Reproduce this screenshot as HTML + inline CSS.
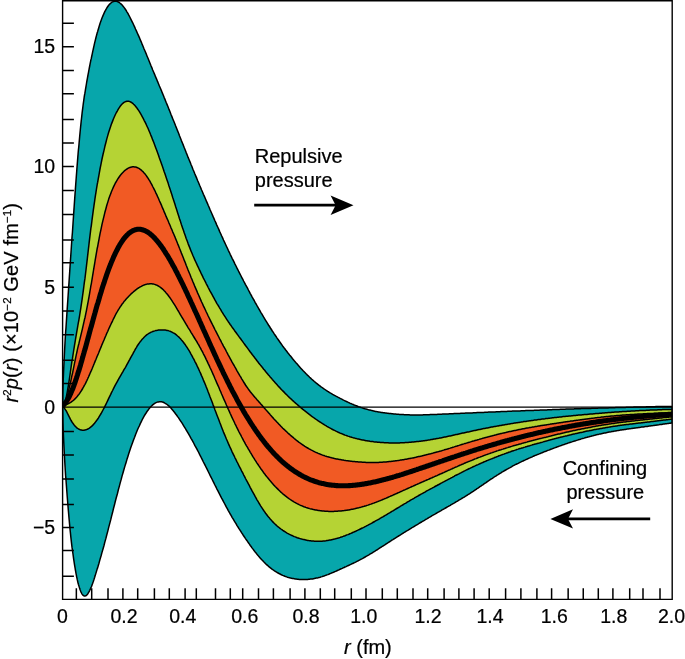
<!DOCTYPE html>
<html><head><meta charset="utf-8"><title>Radial pressure distribution</title>
<style>html,body{margin:0;padding:0;background:#fff}svg{display:block}</style></head>
<body>
<svg width="685" height="659" viewBox="0 0 685 659">
<rect width="685" height="659" fill="#fff"/>
<clipPath id="cp"><rect x="62.6" y="0" width="609.6" height="599.4"/></clipPath>
<g clip-path="url(#cp)" stroke-linejoin="round">
<polygon points="62.6,407.2 62.9,388.9 63.2,380.5 63.5,373.3 63.8,366.8 64.1,360.5 64.4,354.4 64.7,348.5 65.0,342.9 65.3,337.6 65.6,332.5 66.0,327.6 66.3,322.8 66.6,318.1 66.9,313.5 67.2,309.0 67.5,304.6 67.8,300.2 68.1,295.8 68.4,291.4 68.7,286.9 69.0,282.4 69.3,277.8 69.6,273.3 69.9,268.8 70.2,264.3 70.5,259.8 70.8,255.3 71.1,250.8 71.4,246.3 71.7,241.8 72.0,237.3 72.4,232.8 72.7,228.3 73.0,223.8 73.3,219.3 73.6,214.8 73.9,210.4 74.2,206.0 74.5,201.6 74.8,197.4 75.1,193.1 75.4,188.9 75.7,184.8 76.0,180.8 76.3,176.7 76.6,172.8 76.9,168.8 77.2,164.9 77.5,161.1 77.8,157.3 78.1,153.6 78.4,150.0 78.8,146.5 79.1,143.0 79.4,139.6 79.7,136.3 80.0,133.1 80.3,130.0 80.6,127.0 80.9,124.1 81.2,121.2 81.5,118.5 81.8,115.8 82.1,113.2 82.4,110.7 82.7,108.3 83.0,106.0 83.3,103.7 83.6,101.5 83.9,99.3 84.2,97.2 84.5,95.2 84.9,93.2 85.2,91.3 85.5,89.4 85.8,87.6 86.1,85.8 86.4,84.0 86.7,82.2 87.0,80.5 87.3,78.8 87.6,77.2 87.9,75.5 88.2,73.9 88.5,72.3 88.8,70.7 89.1,69.1 89.4,67.5 89.7,66.0 90.0,64.4 90.3,62.9 90.6,61.4 90.9,59.9 91.3,58.4 91.6,56.9 91.9,55.5 92.2,54.1 92.5,52.6 92.8,51.2 93.1,49.8 93.4,48.5 93.7,47.1 94.0,45.8 94.3,44.5 94.6,43.2 94.9,41.9 95.2,40.7 95.5,39.4 95.8,38.2 96.1,37.0 96.4,35.9 96.7,34.7 97.0,33.6 97.3,32.5 97.7,31.4 98.0,30.3 98.3,29.3 98.6,28.3 98.9,27.3 99.2,26.3 100.1,23.3 101.1,20.6 102.0,18.0 103.0,15.6 104.0,13.4 104.9,11.4 105.9,9.6 106.8,8.0 107.8,6.5 108.7,5.2 109.7,4.1 110.7,3.2 111.6,2.4 112.6,1.9 113.5,1.5 114.5,1.2 115.4,1.2 116.4,1.3 117.4,1.6 118.3,2.0 119.3,2.5 120.2,3.3 121.2,4.1 122.1,5.1 123.1,6.2 124.0,7.4 125.0,8.8 126.0,10.2 126.9,11.8 127.9,13.4 128.8,15.2 129.8,17.0 130.7,18.8 131.7,20.8 132.7,22.8 133.6,24.8 134.6,26.9 135.5,29.0 136.5,31.1 137.4,33.2 138.4,35.4 139.4,37.6 140.3,39.9 141.3,42.1 142.2,44.4 143.2,46.7 144.1,49.0 145.1,51.3 146.1,53.6 147.0,55.9 148.0,58.3 148.9,60.6 149.9,63.0 150.8,65.3 151.8,67.6 152.7,70.0 153.7,72.3 154.7,74.6 155.6,76.9 156.6,79.1 157.5,81.4 158.5,83.7 159.4,86.0 160.4,88.3 161.4,90.6 162.3,92.9 163.3,95.2 164.2,97.6 165.2,99.9 166.1,102.3 167.1,104.6 168.1,107.0 169.0,109.4 170.0,111.8 170.9,114.2 171.9,116.6 172.8,118.9 173.8,121.3 174.8,123.7 175.7,126.1 176.7,128.5 177.6,130.9 178.6,133.3 179.5,135.8 180.5,138.2 181.4,140.6 182.4,143.0 183.4,145.4 184.3,147.8 185.3,150.2 186.2,152.6 187.2,155.0 188.1,157.4 189.1,159.7 190.1,162.1 191.0,164.5 192.0,166.8 192.9,169.2 193.9,171.5 194.8,173.8 195.8,176.1 196.8,178.4 197.7,180.7 198.7,183.0 199.6,185.3 200.6,187.5 201.5,189.8 202.5,192.0 203.4,194.2 204.4,196.4 205.4,198.7 206.3,200.9 207.3,203.1 208.2,205.3 209.2,207.5 210.1,209.8 211.1,212.0 212.1,214.2 213.0,216.4 214.0,218.6 214.9,220.8 215.9,222.9 216.8,225.1 217.8,227.3 218.8,229.4 219.7,231.6 220.7,233.7 221.6,235.8 222.6,237.9 223.5,240.0 224.5,242.1 225.5,244.2 226.4,246.2 227.4,248.3 228.3,250.3 229.3,252.3 230.2,254.3 231.2,256.3 232.1,258.3 233.1,260.2 234.1,262.2 235.0,264.1 236.0,266.0 236.9,267.9 237.9,269.8 238.8,271.7 239.8,273.6 240.8,275.5 241.7,277.3 242.7,279.2 243.6,281.0 244.6,282.8 245.5,284.6 246.5,286.4 247.5,288.2 248.4,290.0 249.4,291.8 250.3,293.6 251.3,295.3 252.2,297.1 253.2,298.8 254.2,300.5 255.1,302.3 256.1,304.0 257.0,305.7 258.0,307.3 258.9,309.0 259.9,310.7 260.8,312.3 261.8,313.9 262.8,315.6 263.7,317.2 264.7,318.8 265.6,320.3 266.6,321.9 267.5,323.4 268.5,325.0 269.5,326.5 270.4,328.0 271.4,329.5 272.3,331.0 273.3,332.4 274.2,333.9 275.2,335.3 276.2,336.7 277.1,338.1 278.1,339.5 279.0,340.8 280.0,342.2 280.9,343.5 281.9,344.9 282.8,346.2 283.8,347.5 284.8,348.7 285.7,350.0 286.7,351.3 287.6,352.5 288.6,353.7 289.5,354.9 290.5,356.1 291.5,357.3 292.4,358.5 293.4,359.7 294.3,360.8 295.3,361.9 296.2,363.0 297.2,364.1 298.2,365.2 299.1,366.3 300.1,367.4 301.0,368.4 302.0,369.5 302.9,370.5 303.9,371.5 304.9,372.5 305.8,373.5 306.8,374.4 307.7,375.4 308.7,376.3 309.6,377.2 310.6,378.1 311.5,379.0 312.5,379.8 313.5,380.7 314.4,381.5 315.4,382.3 316.3,383.1 317.3,383.9 318.2,384.6 319.2,385.4 320.2,386.1 321.1,386.8 322.1,387.5 323.0,388.2 324.0,388.9 324.9,389.5 325.9,390.2 326.9,390.8 327.8,391.4 328.8,392.0 329.7,392.6 330.7,393.2 331.6,393.7 332.6,394.3 333.6,394.8 334.5,395.4 335.5,395.9 336.4,396.4 337.4,396.9 338.3,397.4 339.3,397.9 340.2,398.4 341.2,398.9 342.2,399.4 343.1,399.9 344.1,400.4 345.0,400.8 346.0,401.3 346.9,401.7 347.9,402.2 348.9,402.6 349.8,403.1 350.8,403.5 351.7,403.9 352.7,404.3 353.6,404.7 354.6,405.1 355.6,405.5 356.5,405.8 357.5,406.2 358.4,406.6 359.4,406.9 360.3,407.2 361.3,407.6 362.3,407.9 363.2,408.2 364.2,408.5 365.1,408.8 366.1,409.1 367.0,409.3 368.0,409.6 368.9,409.9 369.9,410.1 370.9,410.3 371.8,410.6 372.8,410.8 373.7,411.0 374.7,411.2 375.6,411.4 376.6,411.6 377.6,411.7 378.5,411.9 379.5,412.1 380.4,412.2 381.4,412.4 382.3,412.5 383.3,412.7 384.3,412.8 385.2,413.0 386.2,413.1 387.1,413.2 388.1,413.3 389.0,413.4 390.0,413.5 390.9,413.6 391.9,413.7 392.9,413.8 393.8,413.9 394.8,414.0 395.7,414.1 396.7,414.2 397.6,414.3 398.6,414.3 399.6,414.4 400.5,414.5 401.5,414.5 402.4,414.6 403.4,414.6 404.3,414.7 405.3,414.7 406.3,414.8 407.2,414.8 408.2,414.8 409.1,414.8 410.1,414.9 411.0,414.9 412.0,414.9 413.0,414.9 413.9,414.9 414.9,414.9 415.8,414.9 416.8,414.9 417.7,414.9 418.7,414.9 419.6,414.9 420.6,414.9 421.6,414.9 422.5,414.9 423.5,414.8 424.4,414.8 425.4,414.8 426.3,414.8 427.3,414.7 428.3,414.7 429.2,414.7 430.2,414.6 431.1,414.6 432.1,414.6 433.0,414.5 434.0,414.5 435.0,414.4 435.9,414.4 436.9,414.4 437.8,414.3 438.8,414.3 439.7,414.2 440.7,414.2 441.7,414.2 442.6,414.1 443.6,414.1 444.5,414.0 445.5,414.0 446.4,413.9 447.4,413.9 448.3,413.9 449.3,413.8 450.3,413.8 451.2,413.7 452.2,413.7 453.1,413.7 454.1,413.6 455.0,413.6 456.0,413.5 457.0,413.5 457.9,413.5 458.9,413.4 459.8,413.4 460.8,413.3 461.7,413.3 462.7,413.3 463.7,413.2 464.6,413.2 465.6,413.1 466.5,413.1 467.5,413.1 468.4,413.0 469.4,413.0 470.4,412.9 471.3,412.9 472.3,412.9 473.2,412.8 474.2,412.8 475.1,412.7 476.1,412.7 477.0,412.6 478.0,412.6 479.0,412.6 479.9,412.5 480.9,412.5 481.8,412.4 482.8,412.4 483.7,412.4 484.7,412.3 485.7,412.3 486.6,412.2 487.6,412.2 488.5,412.1 489.5,412.1 490.4,412.1 491.4,412.0 492.4,412.0 493.3,411.9 494.3,411.9 495.2,411.9 496.2,411.8 497.1,411.8 498.1,411.7 499.0,411.7 500.0,411.7 501.0,411.6 501.9,411.6 502.9,411.5 503.8,411.5 504.8,411.5 505.7,411.4 506.7,411.4 507.7,411.3 508.6,411.3 509.6,411.3 510.5,411.2 511.5,411.2 512.4,411.1 513.4,411.1 514.4,411.1 515.3,411.0 516.3,411.0 517.2,411.0 518.2,410.9 519.1,410.9 520.1,410.9 521.1,410.8 522.0,410.8 523.0,410.7 523.9,410.7 524.9,410.7 525.8,410.6 526.8,410.6 527.7,410.6 528.7,410.5 529.7,410.5 530.6,410.5 531.6,410.4 532.5,410.4 533.5,410.4 534.4,410.3 535.4,410.3 536.4,410.3 537.3,410.2 538.3,410.2 539.2,410.2 540.2,410.1 541.1,410.1 542.1,410.0 543.1,410.0 544.0,410.0 545.0,409.9 545.9,409.9 546.9,409.9 547.8,409.8 548.8,409.8 549.8,409.7 550.7,409.7 551.7,409.7 552.6,409.6 553.6,409.6 554.5,409.6 555.5,409.5 556.4,409.5 557.4,409.4 558.4,409.4 559.3,409.4 560.3,409.3 561.2,409.3 562.2,409.3 563.1,409.2 564.1,409.2 565.1,409.2 566.0,409.1 567.0,409.1 567.9,409.1 568.9,409.0 569.8,409.0 570.8,409.0 571.8,408.9 572.7,408.9 573.7,408.9 574.6,408.8 575.6,408.8 576.5,408.8 577.5,408.8 578.4,408.7 579.4,408.7 580.4,408.7 581.3,408.6 582.3,408.6 583.2,408.6 584.2,408.5 585.1,408.5 586.1,408.5 587.1,408.5 588.0,408.4 589.0,408.4 589.9,408.4 590.9,408.4 591.8,408.3 592.8,408.3 593.8,408.3 594.7,408.2 595.7,408.2 596.6,408.2 597.6,408.2 598.5,408.1 599.5,408.1 600.5,408.1 601.4,408.0 602.4,408.0 603.3,408.0 604.3,408.0 605.2,407.9 606.2,407.9 607.1,407.9 608.1,407.9 609.1,407.8 610.0,407.8 611.0,407.8 611.9,407.7 612.9,407.7 613.8,407.7 614.8,407.7 615.8,407.6 616.7,407.6 617.7,407.6 618.6,407.6 619.6,407.5 620.5,407.5 621.5,407.5 622.5,407.4 623.4,407.4 624.4,407.4 625.3,407.4 626.3,407.3 627.2,407.3 628.2,407.3 629.2,407.3 630.1,407.2 631.1,407.2 632.0,407.2 633.0,407.2 633.9,407.1 634.9,407.1 635.8,407.1 636.8,407.1 637.8,407.0 638.7,407.0 639.7,407.0 640.6,407.0 641.6,406.9 642.5,406.9 643.5,406.9 644.5,406.9 645.4,406.9 646.4,406.8 647.3,406.8 648.3,406.8 649.2,406.8 650.2,406.8 651.2,406.7 652.1,406.7 653.1,406.7 654.0,406.7 655.0,406.7 655.9,406.6 656.9,406.6 657.9,406.6 658.8,406.6 659.8,406.6 660.7,406.6 661.7,406.6 662.6,406.5 663.6,406.5 664.5,406.5 665.5,406.5 666.5,406.5 667.4,406.5 668.4,406.5 669.3,406.5 670.3,406.5 671.2,406.4 672.2,406.4 672.2,422.9 671.2,423.0 670.3,423.2 669.3,423.3 668.4,423.4 667.4,423.6 666.5,423.7 665.5,423.8 664.5,424.0 663.6,424.1 662.6,424.2 661.7,424.4 660.7,424.5 659.8,424.6 658.8,424.8 657.9,424.9 656.9,425.0 655.9,425.2 655.0,425.3 654.0,425.4 653.1,425.6 652.1,425.7 651.2,425.8 650.2,426.0 649.2,426.1 648.3,426.2 647.3,426.4 646.4,426.5 645.4,426.6 644.5,426.7 643.5,426.9 642.5,427.0 641.6,427.1 640.6,427.3 639.7,427.4 638.7,427.5 637.8,427.7 636.8,427.8 635.8,427.9 634.9,428.0 633.9,428.2 633.0,428.3 632.0,428.4 631.1,428.6 630.1,428.7 629.2,428.8 628.2,429.0 627.2,429.1 626.3,429.2 625.3,429.4 624.4,429.5 623.4,429.7 622.5,429.8 621.5,430.0 620.5,430.1 619.6,430.3 618.6,430.4 617.7,430.6 616.7,430.7 615.8,430.9 614.8,431.1 613.8,431.2 612.9,431.4 611.9,431.6 611.0,431.8 610.0,431.9 609.1,432.1 608.1,432.3 607.1,432.5 606.2,432.7 605.2,432.9 604.3,433.1 603.3,433.3 602.4,433.5 601.4,433.7 600.5,433.9 599.5,434.1 598.5,434.4 597.6,434.6 596.6,434.8 595.7,435.0 594.7,435.3 593.8,435.5 592.8,435.8 591.8,436.0 590.9,436.3 589.9,436.5 589.0,436.8 588.0,437.0 587.1,437.3 586.1,437.5 585.1,437.8 584.2,438.1 583.2,438.4 582.3,438.6 581.3,438.9 580.4,439.2 579.4,439.5 578.4,439.8 577.5,440.1 576.5,440.4 575.6,440.7 574.6,441.0 573.7,441.3 572.7,441.6 571.8,441.9 570.8,442.2 569.8,442.5 568.9,442.8 567.9,443.1 567.0,443.5 566.0,443.8 565.1,444.1 564.1,444.5 563.1,444.8 562.2,445.1 561.2,445.5 560.3,445.8 559.3,446.1 558.4,446.5 557.4,446.8 556.4,447.2 555.5,447.5 554.5,447.9 553.6,448.2 552.6,448.6 551.7,449.0 550.7,449.3 549.8,449.7 548.8,450.1 547.8,450.4 546.9,450.8 545.9,451.2 545.0,451.5 544.0,451.9 543.1,452.3 542.1,452.7 541.1,453.1 540.2,453.5 539.2,453.9 538.3,454.2 537.3,454.6 536.4,455.0 535.4,455.4 534.4,455.8 533.5,456.2 532.5,456.7 531.6,457.1 530.6,457.5 529.7,457.9 528.7,458.3 527.7,458.8 526.8,459.2 525.8,459.6 524.9,460.1 523.9,460.5 523.0,461.0 522.0,461.4 521.1,461.9 520.1,462.3 519.1,462.8 518.2,463.3 517.2,463.8 516.3,464.2 515.3,464.7 514.4,465.2 513.4,465.7 512.4,466.2 511.5,466.8 510.5,467.3 509.6,467.8 508.6,468.3 507.7,468.9 506.7,469.4 505.7,470.0 504.8,470.5 503.8,471.1 502.9,471.7 501.9,472.2 501.0,472.8 500.0,473.4 499.0,474.0 498.1,474.6 497.1,475.2 496.2,475.8 495.2,476.4 494.3,477.0 493.3,477.7 492.4,478.3 491.4,478.9 490.4,479.5 489.5,480.2 488.5,480.8 487.6,481.5 486.6,482.1 485.7,482.8 484.7,483.4 483.7,484.1 482.8,484.8 481.8,485.4 480.9,486.1 479.9,486.7 479.0,487.4 478.0,488.1 477.0,488.7 476.1,489.4 475.1,490.0 474.2,490.6 473.2,491.3 472.3,491.9 471.3,492.5 470.4,493.2 469.4,493.8 468.4,494.4 467.5,495.0 466.5,495.6 465.6,496.2 464.6,496.8 463.7,497.4 462.7,497.9 461.7,498.5 460.8,499.1 459.8,499.7 458.9,500.2 457.9,500.8 457.0,501.4 456.0,501.9 455.0,502.5 454.1,503.1 453.1,503.6 452.2,504.2 451.2,504.7 450.3,505.3 449.3,505.8 448.3,506.4 447.4,506.9 446.4,507.5 445.5,508.0 444.5,508.6 443.6,509.1 442.6,509.7 441.7,510.2 440.7,510.8 439.7,511.3 438.8,511.9 437.8,512.4 436.9,513.0 435.9,513.5 435.0,514.1 434.0,514.6 433.0,515.2 432.1,515.7 431.1,516.3 430.2,516.9 429.2,517.4 428.3,518.0 427.3,518.6 426.3,519.1 425.4,519.7 424.4,520.3 423.5,520.8 422.5,521.4 421.6,522.0 420.6,522.5 419.6,523.1 418.7,523.7 417.7,524.3 416.8,524.8 415.8,525.4 414.9,526.0 413.9,526.6 413.0,527.2 412.0,527.7 411.0,528.3 410.1,528.9 409.1,529.5 408.2,530.1 407.2,530.7 406.3,531.2 405.3,531.8 404.3,532.4 403.4,533.0 402.4,533.6 401.5,534.2 400.5,534.8 399.6,535.4 398.6,536.0 397.6,536.6 396.7,537.2 395.7,537.8 394.8,538.4 393.8,539.0 392.9,539.6 391.9,540.2 390.9,540.9 390.0,541.5 389.0,542.1 388.1,542.7 387.1,543.3 386.2,543.9 385.2,544.6 384.3,545.2 383.3,545.8 382.3,546.4 381.4,547.0 380.4,547.6 379.5,548.2 378.5,548.9 377.6,549.5 376.6,550.1 375.6,550.7 374.7,551.3 373.7,551.9 372.8,552.5 371.8,553.1 370.9,553.6 369.9,554.2 368.9,554.8 368.0,555.3 367.0,555.9 366.1,556.4 365.1,557.0 364.2,557.5 363.2,558.1 362.3,558.6 361.3,559.1 360.3,559.7 359.4,560.2 358.4,560.7 357.5,561.1 356.5,561.6 355.6,562.1 354.6,562.6 353.6,563.0 352.7,563.5 351.7,563.9 350.8,564.4 349.8,564.8 348.9,565.3 347.9,565.7 346.9,566.2 346.0,566.6 345.0,567.0 344.1,567.5 343.1,567.9 342.2,568.4 341.2,568.8 340.2,569.2 339.3,569.7 338.3,570.1 337.4,570.5 336.4,571.0 335.5,571.4 334.5,571.8 333.6,572.2 332.6,572.6 331.6,573.0 330.7,573.4 329.7,573.8 328.8,574.2 327.8,574.6 326.9,574.9 325.9,575.3 324.9,575.6 324.0,576.0 323.0,576.3 322.1,576.6 321.1,576.9 320.2,577.2 319.2,577.4 318.2,577.7 317.3,577.9 316.3,578.1 315.4,578.3 314.4,578.5 313.5,578.7 312.5,578.9 311.5,579.0 310.6,579.1 309.6,579.2 308.7,579.3 307.7,579.4 306.8,579.5 305.8,579.5 304.9,579.6 303.9,579.6 302.9,579.6 302.0,579.6 301.0,579.5 300.1,579.5 299.1,579.4 298.2,579.3 297.2,579.2 296.2,579.1 295.3,579.0 294.3,578.8 293.4,578.6 292.4,578.4 291.5,578.2 290.5,578.0 289.5,577.7 288.6,577.5 287.6,577.2 286.7,576.9 285.7,576.5 284.8,576.2 283.8,575.8 282.8,575.4 281.9,575.0 280.9,574.5 280.0,574.0 279.0,573.5 278.1,573.0 277.1,572.5 276.2,571.9 275.2,571.3 274.2,570.7 273.3,570.0 272.3,569.3 271.4,568.6 270.4,567.8 269.5,567.1 268.5,566.3 267.5,565.4 266.6,564.6 265.6,563.7 264.7,562.7 263.7,561.8 262.8,560.8 261.8,559.8 260.8,558.7 259.9,557.7 258.9,556.6 258.0,555.4 257.0,554.3 256.1,553.1 255.1,551.9 254.2,550.7 253.2,549.4 252.2,548.1 251.3,546.8 250.3,545.5 249.4,544.1 248.4,542.8 247.5,541.4 246.5,540.0 245.5,538.6 244.6,537.2 243.6,535.8 242.7,534.3 241.7,532.9 240.8,531.4 239.8,529.9 238.8,528.4 237.9,526.9 236.9,525.3 236.0,523.7 235.0,522.2 234.1,520.6 233.1,518.9 232.1,517.3 231.2,515.6 230.2,514.0 229.3,512.3 228.3,510.6 227.4,508.8 226.4,507.1 225.5,505.3 224.5,503.5 223.5,501.7 222.6,499.9 221.6,498.1 220.7,496.3 219.7,494.4 218.8,492.6 217.8,490.7 216.8,488.8 215.9,486.9 214.9,485.0 214.0,483.1 213.0,481.2 212.1,479.3 211.1,477.3 210.1,475.4 209.2,473.5 208.2,471.5 207.3,469.6 206.3,467.7 205.4,465.8 204.4,463.9 203.4,462.0 202.5,460.1 201.5,458.2 200.6,456.3 199.6,454.4 198.7,452.5 197.7,450.7 196.8,448.9 195.8,447.1 194.8,445.3 193.9,443.5 192.9,441.7 192.0,440.0 191.0,438.3 190.1,436.6 189.1,434.9 188.1,433.2 187.2,431.6 186.2,430.0 185.3,428.4 184.3,426.8 183.4,425.3 182.4,423.7 181.4,422.2 180.5,420.8 179.5,419.3 178.6,417.9 177.6,416.6 176.7,415.3 175.7,414.0 174.8,412.7 173.8,411.5 172.8,410.3 171.9,409.2 170.9,408.1 170.0,407.1 169.0,406.1 168.1,405.3 167.1,404.5 166.1,403.8 165.2,403.3 164.2,402.7 163.3,402.3 162.3,402.0 161.4,401.8 160.4,401.7 159.4,401.7 158.5,401.9 157.5,402.1 156.6,402.4 155.6,402.9 154.7,403.4 153.7,404.1 152.7,404.9 151.8,405.7 150.8,406.7 149.9,407.8 148.9,408.9 148.0,410.2 147.0,411.5 146.1,413.0 145.1,414.5 144.1,416.2 143.2,417.9 142.2,419.7 141.3,421.6 140.3,423.6 139.4,425.7 138.4,427.8 137.4,430.0 136.5,432.3 135.5,434.7 134.6,437.2 133.6,439.7 132.7,442.3 131.7,445.0 130.7,447.7 129.8,450.6 128.8,453.5 127.9,456.5 126.9,459.6 126.0,462.7 125.0,465.9 124.0,469.2 123.1,472.5 122.1,475.9 121.2,479.4 120.2,482.9 119.3,486.4 118.3,490.0 117.4,493.7 116.4,497.3 115.4,501.0 114.5,504.7 113.5,508.5 112.6,512.3 111.6,516.1 110.7,519.9 109.7,523.6 108.7,527.4 107.8,531.1 106.8,534.7 105.9,538.4 104.9,541.9 104.0,545.5 103.0,549.0 102.0,552.4 101.1,555.8 100.1,559.1 99.2,562.4 98.9,563.5 98.6,564.5 98.3,565.5 98.0,566.6 97.7,567.6 97.3,568.6 97.0,569.6 96.7,570.6 96.4,571.6 96.1,572.6 95.8,573.6 95.5,574.6 95.2,575.6 94.9,576.5 94.6,577.5 94.3,578.4 94.0,579.4 93.7,580.3 93.4,581.2 93.1,582.1 92.8,582.9 92.5,583.8 92.2,584.6 91.9,585.4 91.6,586.2 91.3,587.0 90.9,587.7 90.6,588.5 90.3,589.2 90.0,589.8 89.7,590.5 89.4,591.1 89.1,591.7 88.8,592.2 88.5,592.7 88.2,593.2 87.9,593.7 87.6,594.1 87.3,594.5 87.0,594.8 86.7,595.1 86.4,595.4 86.1,595.6 85.8,595.8 85.5,595.9 85.2,596.0 84.9,596.0 84.5,596.0 84.2,596.0 83.9,595.9 83.6,595.7 83.3,595.5 83.0,595.2 82.7,594.9 82.4,594.5 82.1,594.1 81.8,593.6 81.5,593.0 81.2,592.4 80.9,591.8 80.6,591.1 80.3,590.3 80.0,589.5 79.7,588.6 79.4,587.6 79.1,586.6 78.8,585.6 78.4,584.4 78.1,583.3 77.8,582.0 77.5,580.7 77.2,579.4 76.9,577.9 76.6,576.5 76.3,574.9 76.0,573.3 75.7,571.7 75.4,570.0 75.1,568.2 74.8,566.4 74.5,564.6 74.2,562.6 73.9,560.6 73.6,558.6 73.3,556.4 73.0,554.2 72.7,552.0 72.4,549.6 72.0,547.2 71.7,544.7 71.4,542.1 71.1,539.4 70.8,536.6 70.5,533.7 70.2,530.8 69.9,527.7 69.6,524.6 69.3,521.3 69.0,518.0 68.7,514.5 68.4,511.0 68.1,507.4 67.8,503.7 67.5,500.0 67.2,496.2 66.9,492.3 66.6,488.3 66.3,484.2 66.0,479.9 65.6,475.4 65.3,470.7 65.0,465.7 64.7,460.5 64.4,455.0 64.1,449.3 63.8,443.2 63.5,436.9 63.2,430.0 62.9,422.3 62.6,407.2" fill="#07a6ab" stroke="#000" stroke-width="1.5"/>
<polygon points="62.6,407.2 62.9,406.1 63.2,405.6 63.5,405.2 63.8,404.8 64.1,404.5 64.4,403.8 64.7,402.9 65.0,401.8 65.3,400.7 65.6,399.5 66.0,398.2 66.3,396.8 66.6,395.4 66.9,393.9 67.2,392.3 67.5,390.6 67.8,388.9 68.1,387.2 68.4,385.4 68.7,383.5 69.0,381.5 69.3,379.6 69.6,377.5 69.9,375.5 70.2,373.4 70.5,371.3 70.8,369.2 71.1,367.1 71.4,365.0 71.7,362.9 72.0,360.9 72.4,358.9 72.7,356.9 73.0,354.9 73.3,353.0 73.6,351.0 73.9,349.1 74.2,347.3 74.5,345.4 74.8,343.6 75.1,341.8 75.4,340.0 75.7,338.2 76.0,336.4 76.3,334.6 76.6,332.9 76.9,331.1 77.2,329.4 77.5,327.6 77.8,325.9 78.1,324.1 78.4,322.3 78.8,320.5 79.1,318.7 79.4,316.8 79.7,315.0 80.0,313.1 80.3,311.2 80.6,309.3 80.9,307.3 81.2,305.4 81.5,303.4 81.8,301.3 82.1,299.3 82.4,297.2 82.7,295.0 83.0,292.8 83.3,290.6 83.6,288.3 83.9,286.0 84.2,283.7 84.5,281.3 84.9,278.9 85.2,276.5 85.5,274.0 85.8,271.5 86.1,269.0 86.4,266.5 86.7,263.9 87.0,261.3 87.3,258.8 87.6,256.2 87.9,253.6 88.2,251.0 88.5,248.4 88.8,245.8 89.1,243.2 89.4,240.7 89.7,238.1 90.0,235.6 90.3,233.1 90.6,230.6 90.9,228.2 91.3,225.8 91.6,223.4 91.9,221.0 92.2,218.7 92.5,216.4 92.8,214.1 93.1,211.9 93.4,209.7 93.7,207.6 94.0,205.4 94.3,203.3 94.6,201.3 94.9,199.2 95.2,197.2 95.5,195.2 95.8,193.3 96.1,191.4 96.4,189.5 96.7,187.6 97.0,185.8 97.3,184.0 97.7,182.2 98.0,180.4 98.3,178.7 98.6,177.0 98.9,175.3 99.2,173.6 100.1,168.5 101.1,163.6 102.0,159.0 103.0,154.5 104.0,150.3 104.9,146.3 105.9,142.5 106.8,138.9 107.8,135.4 108.7,132.2 109.7,129.2 110.7,126.3 111.6,123.6 112.6,121.1 113.5,118.7 114.5,116.5 115.4,114.5 116.4,112.5 117.4,110.8 118.3,109.1 119.3,107.6 120.2,106.3 121.2,105.1 122.1,104.0 123.1,103.1 124.0,102.4 125.0,101.9 126.0,101.5 126.9,101.3 127.9,101.2 128.8,101.3 129.8,101.6 130.7,102.0 131.7,102.6 132.7,103.3 133.6,104.2 134.6,105.1 135.5,106.2 136.5,107.4 137.4,108.7 138.4,110.1 139.4,111.6 140.3,113.2 141.3,114.9 142.2,116.6 143.2,118.4 144.1,120.3 145.1,122.2 146.1,124.2 147.0,126.2 148.0,128.3 148.9,130.5 149.9,132.8 150.8,135.1 151.8,137.4 152.7,139.9 153.7,142.3 154.7,144.9 155.6,147.4 156.6,150.0 157.5,152.6 158.5,155.3 159.4,158.0 160.4,160.7 161.4,163.4 162.3,166.1 163.3,168.9 164.2,171.7 165.2,174.5 166.1,177.3 167.1,180.2 168.1,183.1 169.0,186.0 170.0,188.9 170.9,191.8 171.9,194.8 172.8,197.8 173.8,200.7 174.8,203.7 175.7,206.8 176.7,209.8 177.6,212.7 178.6,215.7 179.5,218.7 180.5,221.6 181.4,224.5 182.4,227.4 183.4,230.2 184.3,233.0 185.3,235.7 186.2,238.4 187.2,241.1 188.1,243.6 189.1,246.1 190.1,248.6 191.0,250.9 192.0,253.3 192.9,255.5 193.9,257.7 194.8,259.9 195.8,262.0 196.8,264.1 197.7,266.2 198.7,268.2 199.6,270.2 200.6,272.2 201.5,274.2 202.5,276.2 203.4,278.1 204.4,280.0 205.4,281.9 206.3,283.8 207.3,285.6 208.2,287.5 209.2,289.3 210.1,291.1 211.1,292.9 212.1,294.7 213.0,296.4 214.0,298.2 214.9,299.9 215.9,301.6 216.8,303.3 217.8,304.9 218.8,306.5 219.7,308.2 220.7,309.7 221.6,311.3 222.6,312.9 223.5,314.4 224.5,315.9 225.5,317.4 226.4,318.8 227.4,320.3 228.3,321.7 229.3,323.1 230.2,324.5 231.2,325.8 232.1,327.2 233.1,328.5 234.1,329.9 235.0,331.2 236.0,332.5 236.9,333.8 237.9,335.1 238.8,336.4 239.8,337.7 240.8,339.0 241.7,340.3 242.7,341.6 243.6,342.9 244.6,344.2 245.5,345.5 246.5,346.8 247.5,348.1 248.4,349.4 249.4,350.7 250.3,352.0 251.3,353.2 252.2,354.5 253.2,355.8 254.2,357.0 255.1,358.3 256.1,359.5 257.0,360.8 258.0,362.0 258.9,363.2 259.9,364.4 260.8,365.6 261.8,366.8 262.8,368.0 263.7,369.2 264.7,370.3 265.6,371.5 266.6,372.7 267.5,373.8 268.5,375.0 269.5,376.1 270.4,377.2 271.4,378.3 272.3,379.4 273.3,380.5 274.2,381.6 275.2,382.7 276.2,383.8 277.1,384.8 278.1,385.9 279.0,386.9 280.0,387.9 280.9,388.9 281.9,390.0 282.8,390.9 283.8,391.9 284.8,392.9 285.7,393.9 286.7,394.8 287.6,395.7 288.6,396.7 289.5,397.6 290.5,398.5 291.5,399.4 292.4,400.3 293.4,401.1 294.3,402.0 295.3,402.9 296.2,403.7 297.2,404.5 298.2,405.4 299.1,406.2 300.1,407.0 301.0,407.8 302.0,408.6 302.9,409.4 303.9,410.2 304.9,410.9 305.8,411.7 306.8,412.4 307.7,413.2 308.7,413.9 309.6,414.7 310.6,415.4 311.5,416.1 312.5,416.8 313.5,417.5 314.4,418.2 315.4,418.9 316.3,419.5 317.3,420.2 318.2,420.8 319.2,421.5 320.2,422.1 321.1,422.7 322.1,423.3 323.0,423.9 324.0,424.5 324.9,425.1 325.9,425.7 326.9,426.3 327.8,426.8 328.8,427.4 329.7,427.9 330.7,428.4 331.6,429.0 332.6,429.5 333.6,430.0 334.5,430.4 335.5,430.9 336.4,431.4 337.4,431.8 338.3,432.3 339.3,432.7 340.2,433.1 341.2,433.5 342.2,433.9 343.1,434.3 344.1,434.7 345.0,435.1 346.0,435.4 346.9,435.7 347.9,436.1 348.9,436.4 349.8,436.7 350.8,437.0 351.7,437.3 352.7,437.6 353.6,437.9 354.6,438.1 355.6,438.4 356.5,438.6 357.5,438.9 358.4,439.1 359.4,439.3 360.3,439.5 361.3,439.7 362.3,439.9 363.2,440.1 364.2,440.3 365.1,440.5 366.1,440.7 367.0,440.8 368.0,441.0 368.9,441.1 369.9,441.3 370.9,441.4 371.8,441.5 372.8,441.6 373.7,441.8 374.7,441.9 375.6,442.0 376.6,442.1 377.6,442.2 378.5,442.3 379.5,442.3 380.4,442.4 381.4,442.5 382.3,442.6 383.3,442.6 384.3,442.7 385.2,442.7 386.2,442.8 387.1,442.8 388.1,442.8 389.0,442.9 390.0,442.9 390.9,442.9 391.9,442.9 392.9,442.9 393.8,442.9 394.8,442.9 395.7,442.9 396.7,442.9 397.6,442.9 398.6,442.9 399.6,442.9 400.5,442.8 401.5,442.8 402.4,442.8 403.4,442.7 404.3,442.7 405.3,442.6 406.3,442.5 407.2,442.5 408.2,442.4 409.1,442.3 410.1,442.3 411.0,442.2 412.0,442.1 413.0,442.0 413.9,441.9 414.9,441.8 415.8,441.7 416.8,441.6 417.7,441.5 418.7,441.4 419.6,441.3 420.6,441.2 421.6,441.0 422.5,440.9 423.5,440.8 424.4,440.7 425.4,440.5 426.3,440.4 427.3,440.2 428.3,440.1 429.2,439.9 430.2,439.8 431.1,439.6 432.1,439.5 433.0,439.3 434.0,439.1 435.0,439.0 435.9,438.8 436.9,438.6 437.8,438.4 438.8,438.3 439.7,438.1 440.7,437.9 441.7,437.7 442.6,437.5 443.6,437.3 444.5,437.1 445.5,436.9 446.4,436.7 447.4,436.5 448.3,436.3 449.3,436.1 450.3,435.9 451.2,435.7 452.2,435.5 453.1,435.3 454.1,435.1 455.0,434.8 456.0,434.6 457.0,434.4 457.9,434.2 458.9,434.0 459.8,433.8 460.8,433.6 461.7,433.3 462.7,433.1 463.7,432.9 464.6,432.7 465.6,432.5 466.5,432.3 467.5,432.1 468.4,431.9 469.4,431.7 470.4,431.4 471.3,431.2 472.3,431.0 473.2,430.8 474.2,430.6 475.1,430.4 476.1,430.2 477.0,430.0 478.0,429.8 479.0,429.6 479.9,429.4 480.9,429.2 481.8,429.0 482.8,428.8 483.7,428.6 484.7,428.5 485.7,428.3 486.6,428.1 487.6,427.9 488.5,427.7 489.5,427.5 490.4,427.3 491.4,427.1 492.4,427.0 493.3,426.8 494.3,426.6 495.2,426.4 496.2,426.2 497.1,426.1 498.1,425.9 499.0,425.7 500.0,425.5 501.0,425.4 501.9,425.2 502.9,425.0 503.8,424.9 504.8,424.7 505.7,424.5 506.7,424.4 507.7,424.2 508.6,424.1 509.6,423.9 510.5,423.7 511.5,423.6 512.4,423.4 513.4,423.3 514.4,423.1 515.3,423.0 516.3,422.8 517.2,422.7 518.2,422.5 519.1,422.4 520.1,422.2 521.1,422.1 522.0,421.9 523.0,421.8 523.9,421.6 524.9,421.5 525.8,421.4 526.8,421.2 527.7,421.1 528.7,420.9 529.7,420.8 530.6,420.7 531.6,420.5 532.5,420.4 533.5,420.3 534.4,420.1 535.4,420.0 536.4,419.9 537.3,419.7 538.3,419.6 539.2,419.5 540.2,419.4 541.1,419.2 542.1,419.1 543.1,419.0 544.0,418.9 545.0,418.8 545.9,418.6 546.9,418.5 547.8,418.4 548.8,418.3 549.8,418.2 550.7,418.1 551.7,417.9 552.6,417.8 553.6,417.7 554.5,417.6 555.5,417.5 556.4,417.4 557.4,417.3 558.4,417.2 559.3,417.1 560.3,417.0 561.2,416.9 562.2,416.7 563.1,416.6 564.1,416.5 565.1,416.4 566.0,416.3 567.0,416.2 567.9,416.2 568.9,416.1 569.8,416.0 570.8,415.9 571.8,415.8 572.7,415.7 573.7,415.6 574.6,415.5 575.6,415.4 576.5,415.3 577.5,415.2 578.4,415.1 579.4,415.1 580.4,415.0 581.3,414.9 582.3,414.8 583.2,414.7 584.2,414.6 585.1,414.5 586.1,414.5 587.1,414.4 588.0,414.3 589.0,414.2 589.9,414.1 590.9,414.0 591.8,414.0 592.8,413.9 593.8,413.8 594.7,413.7 595.7,413.6 596.6,413.5 597.6,413.5 598.5,413.4 599.5,413.3 600.5,413.2 601.4,413.2 602.4,413.1 603.3,413.0 604.3,412.9 605.2,412.8 606.2,412.8 607.1,412.7 608.1,412.6 609.1,412.6 610.0,412.5 611.0,412.4 611.9,412.3 612.9,412.3 613.8,412.2 614.8,412.1 615.8,412.1 616.7,412.0 617.7,411.9 618.6,411.9 619.6,411.8 620.5,411.7 621.5,411.7 622.5,411.6 623.4,411.6 624.4,411.5 625.3,411.4 626.3,411.4 627.2,411.3 628.2,411.3 629.2,411.2 630.1,411.2 631.1,411.1 632.0,411.1 633.0,411.0 633.9,410.9 634.9,410.9 635.8,410.8 636.8,410.8 637.8,410.7 638.7,410.7 639.7,410.6 640.6,410.6 641.6,410.5 642.5,410.5 643.5,410.5 644.5,410.4 645.4,410.4 646.4,410.3 647.3,410.3 648.3,410.2 649.2,410.2 650.2,410.1 651.2,410.1 652.1,410.1 653.1,410.0 654.0,410.0 655.0,409.9 655.9,409.9 656.9,409.9 657.9,409.8 658.8,409.8 659.8,409.7 660.7,409.7 661.7,409.7 662.6,409.6 663.6,409.6 664.5,409.6 665.5,409.5 666.5,409.5 667.4,409.5 668.4,409.4 669.3,409.4 670.3,409.4 671.2,409.4 672.2,409.3 672.2,419.1 671.2,419.2 670.3,419.3 669.3,419.4 668.4,419.5 667.4,419.7 666.5,419.8 665.5,419.9 664.5,420.0 663.6,420.1 662.6,420.2 661.7,420.3 660.7,420.5 659.8,420.6 658.8,420.7 657.9,420.8 656.9,420.9 655.9,421.0 655.0,421.2 654.0,421.3 653.1,421.4 652.1,421.5 651.2,421.6 650.2,421.7 649.2,421.9 648.3,422.0 647.3,422.1 646.4,422.2 645.4,422.3 644.5,422.4 643.5,422.5 642.5,422.7 641.6,422.8 640.6,422.9 639.7,423.0 638.7,423.1 637.8,423.2 636.8,423.3 635.8,423.4 634.9,423.6 633.9,423.7 633.0,423.8 632.0,423.9 631.1,424.0 630.1,424.1 629.2,424.2 628.2,424.4 627.2,424.5 626.3,424.6 625.3,424.7 624.4,424.8 623.4,425.0 622.5,425.1 621.5,425.2 620.5,425.3 619.6,425.5 618.6,425.6 617.7,425.7 616.7,425.9 615.8,426.0 614.8,426.2 613.8,426.3 612.9,426.4 611.9,426.6 611.0,426.7 610.0,426.9 609.1,427.1 608.1,427.2 607.1,427.4 606.2,427.5 605.2,427.7 604.3,427.9 603.3,428.0 602.4,428.2 601.4,428.4 600.5,428.5 599.5,428.7 598.5,428.9 597.6,429.1 596.6,429.2 595.7,429.4 594.7,429.6 593.8,429.8 592.8,430.0 591.8,430.2 590.9,430.4 589.9,430.6 589.0,430.8 588.0,430.9 587.1,431.1 586.1,431.3 585.1,431.5 584.2,431.7 583.2,432.0 582.3,432.2 581.3,432.4 580.4,432.6 579.4,432.8 578.4,433.0 577.5,433.2 576.5,433.4 575.6,433.6 574.6,433.9 573.7,434.1 572.7,434.3 571.8,434.5 570.8,434.8 569.8,435.0 568.9,435.2 567.9,435.4 567.0,435.7 566.0,435.9 565.1,436.1 564.1,436.4 563.1,436.6 562.2,436.9 561.2,437.1 560.3,437.3 559.3,437.6 558.4,437.8 557.4,438.1 556.4,438.3 555.5,438.6 554.5,438.8 553.6,439.1 552.6,439.3 551.7,439.6 550.7,439.8 549.8,440.1 548.8,440.3 547.8,440.6 546.9,440.9 545.9,441.1 545.0,441.4 544.0,441.6 543.1,441.9 542.1,442.2 541.1,442.4 540.2,442.7 539.2,443.0 538.3,443.2 537.3,443.5 536.4,443.8 535.4,444.0 534.4,444.3 533.5,444.6 532.5,444.8 531.6,445.1 530.6,445.4 529.7,445.7 528.7,445.9 527.7,446.2 526.8,446.5 525.8,446.8 524.9,447.1 523.9,447.4 523.0,447.7 522.0,447.9 521.1,448.2 520.1,448.5 519.1,448.8 518.2,449.1 517.2,449.4 516.3,449.8 515.3,450.1 514.4,450.4 513.4,450.7 512.4,451.0 511.5,451.3 510.5,451.7 509.6,452.0 508.6,452.3 507.7,452.7 506.7,453.0 505.7,453.4 504.8,453.7 503.8,454.1 502.9,454.4 501.9,454.8 501.0,455.1 500.0,455.5 499.0,455.8 498.1,456.2 497.1,456.6 496.2,457.0 495.2,457.3 494.3,457.7 493.3,458.1 492.4,458.5 491.4,458.9 490.4,459.2 489.5,459.6 488.5,460.0 487.6,460.4 486.6,460.8 485.7,461.2 484.7,461.6 483.7,462.0 482.8,462.5 481.8,462.9 480.9,463.3 479.9,463.7 479.0,464.1 478.0,464.6 477.0,465.0 476.1,465.4 475.1,465.9 474.2,466.3 473.2,466.7 472.3,467.2 471.3,467.6 470.4,468.1 469.4,468.5 468.4,469.0 467.5,469.5 466.5,469.9 465.6,470.4 464.6,470.9 463.7,471.3 462.7,471.8 461.7,472.3 460.8,472.8 459.8,473.3 458.9,473.8 457.9,474.3 457.0,474.8 456.0,475.2 455.0,475.7 454.1,476.3 453.1,476.8 452.2,477.3 451.2,477.8 450.3,478.3 449.3,478.8 448.3,479.3 447.4,479.8 446.4,480.3 445.5,480.8 444.5,481.4 443.6,481.9 442.6,482.4 441.7,482.9 440.7,483.4 439.7,484.0 438.8,484.5 437.8,485.0 436.9,485.5 435.9,486.0 435.0,486.5 434.0,487.1 433.0,487.6 432.1,488.1 431.1,488.6 430.2,489.1 429.2,489.7 428.3,490.2 427.3,490.7 426.3,491.2 425.4,491.8 424.4,492.3 423.5,492.8 422.5,493.4 421.6,493.9 420.6,494.4 419.6,495.0 418.7,495.5 417.7,496.1 416.8,496.6 415.8,497.2 414.9,497.7 413.9,498.3 413.0,498.8 412.0,499.4 411.0,499.9 410.1,500.5 409.1,501.1 408.2,501.6 407.2,502.2 406.3,502.8 405.3,503.4 404.3,503.9 403.4,504.5 402.4,505.1 401.5,505.7 400.5,506.2 399.6,506.8 398.6,507.4 397.6,508.0 396.7,508.5 395.7,509.1 394.8,509.7 393.8,510.3 392.9,510.9 391.9,511.4 390.9,512.0 390.0,512.6 389.0,513.2 388.1,513.7 387.1,514.3 386.2,514.9 385.2,515.4 384.3,516.0 383.3,516.6 382.3,517.1 381.4,517.7 380.4,518.2 379.5,518.8 378.5,519.3 377.6,519.9 376.6,520.4 375.6,520.9 374.7,521.5 373.7,522.0 372.8,522.5 371.8,523.1 370.9,523.6 369.9,524.1 368.9,524.6 368.0,525.1 367.0,525.6 366.1,526.1 365.1,526.6 364.2,527.1 363.2,527.6 362.3,528.0 361.3,528.5 360.3,529.0 359.4,529.5 358.4,529.9 357.5,530.4 356.5,530.8 355.6,531.3 354.6,531.7 353.6,532.1 352.7,532.5 351.7,533.0 350.8,533.4 349.8,533.8 348.9,534.2 347.9,534.6 346.9,534.9 346.0,535.3 345.0,535.7 344.1,536.0 343.1,536.4 342.2,536.7 341.2,537.0 340.2,537.4 339.3,537.7 338.3,538.0 337.4,538.3 336.4,538.5 335.5,538.8 334.5,539.1 333.6,539.3 332.6,539.5 331.6,539.7 330.7,540.0 329.7,540.1 328.8,540.3 327.8,540.5 326.9,540.6 325.9,540.8 324.9,540.9 324.0,541.0 323.0,541.1 322.1,541.2 321.1,541.2 320.2,541.3 319.2,541.3 318.2,541.3 317.3,541.3 316.3,541.3 315.4,541.2 314.4,541.2 313.5,541.1 312.5,541.0 311.5,540.9 310.6,540.8 309.6,540.7 308.7,540.6 307.7,540.4 306.8,540.2 305.8,540.0 304.9,539.8 303.9,539.6 302.9,539.4 302.0,539.1 301.0,538.9 300.1,538.6 299.1,538.3 298.2,538.0 297.2,537.7 296.2,537.3 295.3,536.9 294.3,536.6 293.4,536.2 292.4,535.7 291.5,535.3 290.5,534.8 289.5,534.3 288.6,533.8 287.6,533.3 286.7,532.8 285.7,532.2 284.8,531.6 283.8,531.0 282.8,530.4 281.9,529.7 280.9,529.0 280.0,528.3 279.0,527.5 278.1,526.8 277.1,526.0 276.2,525.1 275.2,524.2 274.2,523.3 273.3,522.4 272.3,521.4 271.4,520.3 270.4,519.3 269.5,518.1 268.5,517.0 267.5,515.8 266.6,514.5 265.6,513.2 264.7,511.9 263.7,510.5 262.8,509.1 261.8,507.6 260.8,506.1 259.9,504.6 258.9,503.0 258.0,501.4 257.0,499.8 256.1,498.1 255.1,496.4 254.2,494.7 253.2,492.9 252.2,491.2 251.3,489.4 250.3,487.6 249.4,485.7 248.4,483.9 247.5,482.1 246.5,480.3 245.5,478.5 244.6,476.6 243.6,474.8 242.7,472.9 241.7,471.1 240.8,469.2 239.8,467.3 238.8,465.4 237.9,463.5 236.9,461.6 236.0,459.7 235.0,457.8 234.1,455.8 233.1,453.8 232.1,451.8 231.2,449.7 230.2,447.7 229.3,445.6 228.3,443.4 227.4,441.2 226.4,439.0 225.5,436.7 224.5,434.4 223.5,432.1 222.6,429.7 221.6,427.2 220.7,424.8 219.7,422.3 218.8,419.8 217.8,417.3 216.8,414.7 215.9,412.2 214.9,409.7 214.0,407.1 213.0,404.6 212.1,402.0 211.1,399.5 210.1,397.0 209.2,394.5 208.2,392.0 207.3,389.5 206.3,387.1 205.4,384.7 204.4,382.4 203.4,380.1 202.5,377.8 201.5,375.6 200.6,373.4 199.6,371.3 198.7,369.2 197.7,367.2 196.8,365.2 195.8,363.2 194.8,361.3 193.9,359.4 192.9,357.6 192.0,355.8 191.0,354.1 190.1,352.4 189.1,350.7 188.1,349.1 187.2,347.6 186.2,346.2 185.3,344.8 184.3,343.5 183.4,342.2 182.4,341.0 181.4,339.9 180.5,338.8 179.5,337.8 178.6,336.8 177.6,336.0 176.7,335.2 175.7,334.4 174.8,333.7 173.8,333.1 172.8,332.6 171.9,332.1 170.9,331.6 170.0,331.2 169.0,330.9 168.1,330.6 167.1,330.4 166.1,330.2 165.2,330.1 164.2,330.0 163.3,329.9 162.3,329.9 161.4,329.9 160.4,330.0 159.4,330.0 158.5,330.1 157.5,330.3 156.6,330.4 155.6,330.6 154.7,330.9 153.7,331.2 152.7,331.5 151.8,331.9 150.8,332.3 149.9,332.8 148.9,333.4 148.0,334.0 147.0,334.7 146.1,335.4 145.1,336.3 144.1,337.2 143.2,338.2 142.2,339.2 141.3,340.4 140.3,341.6 139.4,342.9 138.4,344.3 137.4,345.7 136.5,347.3 135.5,348.9 134.6,350.6 133.6,352.3 132.7,354.1 131.7,355.8 130.7,357.6 129.8,359.4 128.8,361.2 127.9,362.9 126.9,364.7 126.0,366.4 125.0,368.1 124.0,369.7 123.1,371.4 122.1,373.0 121.2,374.6 120.2,376.3 119.3,377.9 118.3,379.6 117.4,381.3 116.4,383.1 115.4,384.9 114.5,386.7 113.5,388.6 112.6,390.5 111.6,392.4 110.7,394.4 109.7,396.4 108.7,398.4 107.8,400.4 106.8,402.5 105.9,404.4 104.9,406.4 104.0,408.2 103.0,410.0 102.0,411.8 101.1,413.5 100.1,415.2 99.2,416.7 98.9,417.2 98.6,417.7 98.3,418.2 98.0,418.6 97.7,419.1 97.3,419.5 97.0,420.0 96.7,420.4 96.4,420.8 96.1,421.2 95.8,421.6 95.5,422.0 95.2,422.4 94.9,422.8 94.6,423.2 94.3,423.5 94.0,423.9 93.7,424.2 93.4,424.6 93.1,424.9 92.8,425.2 92.5,425.5 92.2,425.8 91.9,426.1 91.6,426.4 91.3,426.7 90.9,426.9 90.6,427.2 90.3,427.4 90.0,427.6 89.7,427.9 89.4,428.1 89.1,428.3 88.8,428.5 88.5,428.7 88.2,428.8 87.9,429.0 87.6,429.1 87.3,429.3 87.0,429.4 86.7,429.5 86.4,429.6 86.1,429.7 85.8,429.8 85.5,429.9 85.2,430.0 84.9,430.1 84.5,430.1 84.2,430.2 83.9,430.2 83.6,430.2 83.3,430.2 83.0,430.2 82.7,430.2 82.4,430.2 82.1,430.2 81.8,430.1 81.5,430.1 81.2,430.0 80.9,429.9 80.6,429.9 80.3,429.8 80.0,429.7 79.7,429.5 79.4,429.4 79.1,429.3 78.8,429.1 78.4,428.9 78.1,428.7 77.8,428.5 77.5,428.3 77.2,428.1 76.9,427.9 76.6,427.6 76.3,427.3 76.0,427.0 75.7,426.7 75.4,426.4 75.1,426.1 74.8,425.8 74.5,425.4 74.2,425.0 73.9,424.7 73.6,424.3 73.3,423.8 73.0,423.4 72.7,423.0 72.4,422.5 72.0,422.0 71.7,421.5 71.4,421.0 71.1,420.5 70.8,419.9 70.5,419.4 70.2,418.8 69.9,418.2 69.6,417.6 69.3,417.0 69.0,416.4 68.7,415.8 68.4,415.2 68.1,414.6 67.8,414.0 67.5,413.4 67.2,412.8 66.9,412.2 66.6,411.6 66.3,411.0 66.0,410.5 65.6,410.0 65.3,409.5 65.0,409.0 64.7,408.6 64.4,408.1 64.1,407.8 63.8,407.4 63.5,407.2 63.2,406.9 62.9,406.9 62.6,407.2" fill="#b5d334" stroke="#000" stroke-width="1.5"/>
<polygon points="62.6,407.2 62.9,406.1 63.2,405.6 63.5,405.2 63.8,404.8 64.1,404.5 64.4,403.8 64.7,402.9 65.0,401.8 65.3,401.0 65.6,400.1 66.0,399.3 66.3,398.4 66.6,397.5 66.9,396.5 67.2,395.6 67.5,394.5 67.8,393.5 68.1,392.4 68.4,391.2 68.7,390.1 69.0,388.9 69.3,387.6 69.6,386.4 69.9,385.1 70.2,383.7 70.5,382.4 70.8,381.0 71.1,379.6 71.4,378.2 71.7,376.7 72.0,375.2 72.4,373.8 72.7,372.3 73.0,370.8 73.3,369.3 73.6,367.8 73.9,366.3 74.2,364.9 74.5,363.4 74.8,361.9 75.1,360.5 75.4,359.0 75.7,357.6 76.0,356.2 76.3,354.7 76.6,353.4 76.9,352.0 77.2,350.6 77.5,349.2 77.8,347.9 78.1,346.6 78.4,345.3 78.8,344.0 79.1,342.7 79.4,341.4 79.7,340.1 80.0,338.9 80.3,337.6 80.6,336.4 80.9,335.1 81.2,333.9 81.5,332.6 81.8,331.3 82.1,330.1 82.4,328.8 82.7,327.5 83.0,326.2 83.3,324.8 83.6,323.5 83.9,322.2 84.2,320.8 84.5,319.4 84.9,318.0 85.2,316.6 85.5,315.2 85.8,313.7 86.1,312.2 86.4,310.8 86.7,309.2 87.0,307.7 87.3,306.1 87.6,304.5 87.9,302.9 88.2,301.3 88.5,299.6 88.8,298.0 89.1,296.3 89.4,294.6 89.7,292.8 90.0,291.0 90.3,289.3 90.6,287.5 90.9,285.6 91.3,283.8 91.6,282.0 91.9,280.2 92.2,278.3 92.5,276.5 92.8,274.7 93.1,272.8 93.4,271.0 93.7,269.2 94.0,267.4 94.3,265.6 94.6,263.8 94.9,262.0 95.2,260.2 95.5,258.4 95.8,256.6 96.1,254.9 96.4,253.1 96.7,251.4 97.0,249.7 97.3,248.0 97.7,246.3 98.0,244.7 98.3,243.0 98.6,241.4 98.9,239.8 99.2,238.2 100.1,233.4 101.1,228.8 102.0,224.3 103.0,220.1 104.0,216.1 104.9,212.3 105.9,208.7 106.8,205.3 107.8,202.1 108.7,199.1 109.7,196.3 110.7,193.7 111.6,191.3 112.6,189.0 113.5,186.9 114.5,184.9 115.4,183.0 116.4,181.3 117.4,179.7 118.3,178.2 119.3,176.8 120.2,175.5 121.2,174.3 122.1,173.2 123.1,172.2 124.0,171.3 125.0,170.4 126.0,169.7 126.9,169.0 127.9,168.4 128.8,167.9 129.8,167.5 130.7,167.2 131.7,167.0 132.7,166.8 133.6,166.8 134.6,166.9 135.5,167.1 136.5,167.3 137.4,167.7 138.4,168.2 139.4,168.7 140.3,169.4 141.3,170.1 142.2,171.0 143.2,171.9 144.1,173.0 145.1,174.1 146.1,175.4 147.0,176.7 148.0,178.1 148.9,179.7 149.9,181.2 150.8,182.9 151.8,184.6 152.7,186.5 153.7,188.3 154.7,190.3 155.6,192.3 156.6,194.3 157.5,196.4 158.5,198.5 159.4,200.7 160.4,202.9 161.4,205.1 162.3,207.4 163.3,209.6 164.2,211.9 165.2,214.1 166.1,216.4 167.1,218.6 168.1,220.8 169.0,223.1 170.0,225.3 170.9,227.6 171.9,229.8 172.8,232.1 173.8,234.3 174.8,236.6 175.7,238.9 176.7,241.2 177.6,243.6 178.6,245.9 179.5,248.3 180.5,250.7 181.4,253.1 182.4,255.5 183.4,258.0 184.3,260.4 185.3,262.8 186.2,265.3 187.2,267.7 188.1,270.1 189.1,272.5 190.1,274.8 191.0,277.2 192.0,279.5 192.9,281.8 193.9,284.1 194.8,286.4 195.8,288.6 196.8,290.9 197.7,293.1 198.7,295.3 199.6,297.4 200.6,299.6 201.5,301.7 202.5,303.8 203.4,305.9 204.4,307.9 205.4,310.0 206.3,312.0 207.3,314.0 208.2,316.0 209.2,318.0 210.1,319.9 211.1,321.9 212.1,323.8 213.0,325.7 214.0,327.6 214.9,329.5 215.9,331.4 216.8,333.2 217.8,335.1 218.8,337.0 219.7,338.8 220.7,340.6 221.6,342.5 222.6,344.3 223.5,346.1 224.5,347.9 225.5,349.7 226.4,351.5 227.4,353.3 228.3,355.1 229.3,356.9 230.2,358.6 231.2,360.4 232.1,362.1 233.1,363.8 234.1,365.5 235.0,367.2 236.0,368.9 236.9,370.6 237.9,372.3 238.8,373.9 239.8,375.6 240.8,377.2 241.7,378.8 242.7,380.4 243.6,382.0 244.6,383.5 245.5,385.0 246.5,386.5 247.5,387.8 248.4,389.2 249.4,390.5 250.3,391.7 251.3,392.9 252.2,394.1 253.2,395.2 254.2,396.4 255.1,397.5 256.1,398.6 257.0,399.7 258.0,400.8 258.9,401.9 259.9,402.9 260.8,404.0 261.8,405.1 262.8,406.2 263.7,407.3 264.7,408.4 265.6,409.5 266.6,410.5 267.5,411.6 268.5,412.7 269.5,413.8 270.4,414.9 271.4,416.0 272.3,417.1 273.3,418.1 274.2,419.2 275.2,420.2 276.2,421.3 277.1,422.3 278.1,423.3 279.0,424.3 280.0,425.3 280.9,426.3 281.9,427.2 282.8,428.2 283.8,429.1 284.8,430.0 285.7,430.9 286.7,431.8 287.6,432.7 288.6,433.6 289.5,434.4 290.5,435.3 291.5,436.1 292.4,436.9 293.4,437.7 294.3,438.5 295.3,439.3 296.2,440.1 297.2,440.8 298.2,441.6 299.1,442.3 300.1,443.0 301.0,443.7 302.0,444.3 302.9,445.0 303.9,445.6 304.9,446.3 305.8,446.9 306.8,447.5 307.7,448.0 308.7,448.6 309.6,449.1 310.6,449.7 311.5,450.2 312.5,450.7 313.5,451.2 314.4,451.6 315.4,452.1 316.3,452.5 317.3,452.9 318.2,453.4 319.2,453.7 320.2,454.1 321.1,454.5 322.1,454.9 323.0,455.2 324.0,455.5 324.9,455.9 325.9,456.2 326.9,456.5 327.8,456.7 328.8,457.0 329.7,457.3 330.7,457.5 331.6,457.8 332.6,458.0 333.6,458.2 334.5,458.5 335.5,458.7 336.4,458.9 337.4,459.1 338.3,459.3 339.3,459.5 340.2,459.6 341.2,459.8 342.2,460.0 343.1,460.1 344.1,460.3 345.0,460.4 346.0,460.6 346.9,460.7 347.9,460.8 348.9,461.0 349.8,461.1 350.8,461.2 351.7,461.3 352.7,461.4 353.6,461.5 354.6,461.6 355.6,461.7 356.5,461.8 357.5,461.8 358.4,461.9 359.4,462.0 360.3,462.1 361.3,462.1 362.3,462.2 363.2,462.2 364.2,462.3 365.1,462.3 366.1,462.4 367.0,462.4 368.0,462.4 368.9,462.4 369.9,462.5 370.9,462.5 371.8,462.5 372.8,462.5 373.7,462.5 374.7,462.5 375.6,462.5 376.6,462.4 377.6,462.4 378.5,462.4 379.5,462.3 380.4,462.3 381.4,462.2 382.3,462.2 383.3,462.1 384.3,462.1 385.2,462.0 386.2,461.9 387.1,461.8 388.1,461.7 389.0,461.6 390.0,461.5 390.9,461.4 391.9,461.3 392.9,461.2 393.8,461.1 394.8,461.0 395.7,460.8 396.7,460.7 397.6,460.6 398.6,460.4 399.6,460.3 400.5,460.1 401.5,460.0 402.4,459.8 403.4,459.7 404.3,459.5 405.3,459.3 406.3,459.2 407.2,459.0 408.2,458.8 409.1,458.6 410.1,458.4 411.0,458.2 412.0,458.1 413.0,457.9 413.9,457.7 414.9,457.5 415.8,457.3 416.8,457.0 417.7,456.8 418.7,456.6 419.6,456.4 420.6,456.2 421.6,456.0 422.5,455.7 423.5,455.5 424.4,455.3 425.4,455.1 426.3,454.8 427.3,454.6 428.3,454.3 429.2,454.1 430.2,453.9 431.1,453.6 432.1,453.4 433.0,453.1 434.0,452.8 435.0,452.6 435.9,452.3 436.9,452.0 437.8,451.8 438.8,451.5 439.7,451.2 440.7,451.0 441.7,450.7 442.6,450.4 443.6,450.1 444.5,449.8 445.5,449.5 446.4,449.3 447.4,449.0 448.3,448.7 449.3,448.4 450.3,448.1 451.2,447.8 452.2,447.5 453.1,447.2 454.1,446.9 455.0,446.6 456.0,446.3 457.0,446.0 457.9,445.7 458.9,445.4 459.8,445.1 460.8,444.8 461.7,444.5 462.7,444.2 463.7,443.9 464.6,443.6 465.6,443.4 466.5,443.1 467.5,442.8 468.4,442.5 469.4,442.2 470.4,441.9 471.3,441.6 472.3,441.3 473.2,441.1 474.2,440.8 475.1,440.5 476.1,440.2 477.0,440.0 478.0,439.7 479.0,439.4 479.9,439.1 480.9,438.9 481.8,438.6 482.8,438.3 483.7,438.1 484.7,437.8 485.7,437.5 486.6,437.3 487.6,437.0 488.5,436.8 489.5,436.5 490.4,436.3 491.4,436.0 492.4,435.8 493.3,435.5 494.3,435.3 495.2,435.0 496.2,434.8 497.1,434.5 498.1,434.3 499.0,434.1 500.0,433.8 501.0,433.6 501.9,433.4 502.9,433.1 503.8,432.9 504.8,432.7 505.7,432.5 506.7,432.2 507.7,432.0 508.6,431.8 509.6,431.6 510.5,431.4 511.5,431.2 512.4,431.0 513.4,430.8 514.4,430.6 515.3,430.4 516.3,430.2 517.2,430.0 518.2,429.8 519.1,429.6 520.1,429.4 521.1,429.2 522.0,429.0 523.0,428.8 523.9,428.7 524.9,428.5 525.8,428.3 526.8,428.1 527.7,427.9 528.7,427.8 529.7,427.6 530.6,427.4 531.6,427.3 532.5,427.1 533.5,426.9 534.4,426.8 535.4,426.6 536.4,426.4 537.3,426.3 538.3,426.1 539.2,426.0 540.2,425.8 541.1,425.6 542.1,425.5 543.1,425.3 544.0,425.2 545.0,425.0 545.9,424.9 546.9,424.7 547.8,424.6 548.8,424.4 549.8,424.3 550.7,424.1 551.7,424.0 552.6,423.8 553.6,423.7 554.5,423.5 555.5,423.4 556.4,423.2 557.4,423.1 558.4,422.9 559.3,422.8 560.3,422.7 561.2,422.5 562.2,422.4 563.1,422.2 564.1,422.1 565.1,422.0 566.0,421.8 567.0,421.7 567.9,421.5 568.9,421.4 569.8,421.3 570.8,421.1 571.8,421.0 572.7,420.9 573.7,420.7 574.6,420.6 575.6,420.5 576.5,420.3 577.5,420.2 578.4,420.1 579.4,419.9 580.4,419.8 581.3,419.7 582.3,419.5 583.2,419.4 584.2,419.3 585.1,419.2 586.1,419.0 587.1,418.9 588.0,418.8 589.0,418.7 589.9,418.5 590.9,418.4 591.8,418.3 592.8,418.2 593.8,418.1 594.7,417.9 595.7,417.8 596.6,417.7 597.6,417.6 598.5,417.5 599.5,417.4 600.5,417.3 601.4,417.1 602.4,417.0 603.3,416.9 604.3,416.8 605.2,416.7 606.2,416.6 607.1,416.5 608.1,416.4 609.1,416.3 610.0,416.2 611.0,416.1 611.9,416.0 612.9,415.9 613.8,415.9 614.8,415.8 615.8,415.7 616.7,415.6 617.7,415.5 618.6,415.4 619.6,415.4 620.5,415.3 621.5,415.2 622.5,415.1 623.4,415.1 624.4,415.0 625.3,414.9 626.3,414.8 627.2,414.8 628.2,414.7 629.2,414.7 630.1,414.6 631.1,414.5 632.0,414.5 633.0,414.4 633.9,414.4 634.9,414.3 635.8,414.2 636.8,414.2 637.8,414.1 638.7,414.1 639.7,414.0 640.6,414.0 641.6,413.9 642.5,413.9 643.5,413.8 644.5,413.8 645.4,413.7 646.4,413.7 647.3,413.6 648.3,413.6 649.2,413.5 650.2,413.5 651.2,413.4 652.1,413.4 653.1,413.4 654.0,413.3 655.0,413.3 655.9,413.2 656.9,413.2 657.9,413.2 658.8,413.1 659.8,413.1 660.7,413.0 661.7,413.0 662.6,413.0 663.6,412.9 664.5,412.9 665.5,412.8 666.5,412.8 667.4,412.8 668.4,412.7 669.3,412.7 670.3,412.7 671.2,412.6 672.2,412.6 672.2,416.8 671.2,416.9 670.3,417.0 669.3,417.1 668.4,417.2 667.4,417.3 666.5,417.4 665.5,417.5 664.5,417.5 663.6,417.6 662.6,417.8 661.7,417.9 660.7,418.0 659.8,418.1 658.8,418.2 657.9,418.3 656.9,418.4 655.9,418.5 655.0,418.6 654.0,418.7 653.1,418.8 652.1,418.9 651.2,419.0 650.2,419.1 649.2,419.2 648.3,419.3 647.3,419.4 646.4,419.5 645.4,419.6 644.5,419.7 643.5,419.8 642.5,419.9 641.6,420.0 640.6,420.1 639.7,420.2 638.7,420.3 637.8,420.4 636.8,420.5 635.8,420.6 634.9,420.8 633.9,420.9 633.0,421.0 632.0,421.1 631.1,421.2 630.1,421.3 629.2,421.4 628.2,421.5 627.2,421.6 626.3,421.7 625.3,421.9 624.4,422.0 623.4,422.1 622.5,422.2 621.5,422.3 620.5,422.4 619.6,422.6 618.6,422.7 617.7,422.8 616.7,423.0 615.8,423.1 614.8,423.2 613.8,423.4 612.9,423.5 611.9,423.6 611.0,423.8 610.0,423.9 609.1,424.1 608.1,424.2 607.1,424.4 606.2,424.5 605.2,424.7 604.3,424.8 603.3,425.0 602.4,425.1 601.4,425.3 600.5,425.5 599.5,425.6 598.5,425.8 597.6,426.0 596.6,426.1 595.7,426.3 594.7,426.5 593.8,426.6 592.8,426.8 591.8,427.0 590.9,427.2 589.9,427.4 589.0,427.5 588.0,427.7 587.1,427.9 586.1,428.1 585.1,428.3 584.2,428.5 583.2,428.7 582.3,428.8 581.3,429.0 580.4,429.2 579.4,429.4 578.4,429.6 577.5,429.8 576.5,430.0 575.6,430.2 574.6,430.4 573.7,430.6 572.7,430.8 571.8,431.1 570.8,431.3 569.8,431.5 568.9,431.7 567.9,431.9 567.0,432.1 566.0,432.3 565.1,432.5 564.1,432.8 563.1,433.0 562.2,433.2 561.2,433.4 560.3,433.7 559.3,433.9 558.4,434.1 557.4,434.3 556.4,434.6 555.5,434.8 554.5,435.0 553.6,435.3 552.6,435.5 551.7,435.7 550.7,436.0 549.8,436.2 548.8,436.4 547.8,436.7 546.9,436.9 545.9,437.2 545.0,437.4 544.0,437.6 543.1,437.9 542.1,438.1 541.1,438.4 540.2,438.6 539.2,438.8 538.3,439.1 537.3,439.3 536.4,439.6 535.4,439.8 534.4,440.1 533.5,440.3 532.5,440.6 531.6,440.8 530.6,441.1 529.7,441.3 528.7,441.6 527.7,441.8 526.8,442.1 525.8,442.4 524.9,442.6 523.9,442.9 523.0,443.1 522.0,443.4 521.1,443.7 520.1,443.9 519.1,444.2 518.2,444.5 517.2,444.7 516.3,445.0 515.3,445.3 514.4,445.6 513.4,445.8 512.4,446.1 511.5,446.4 510.5,446.7 509.6,447.0 508.6,447.3 507.7,447.6 506.7,447.9 505.7,448.2 504.8,448.5 503.8,448.8 502.9,449.1 501.9,449.4 501.0,449.7 500.0,450.0 499.0,450.3 498.1,450.6 497.1,450.9 496.2,451.3 495.2,451.6 494.3,451.9 493.3,452.2 492.4,452.6 491.4,452.9 490.4,453.2 489.5,453.6 488.5,453.9 487.6,454.3 486.6,454.6 485.7,454.9 484.7,455.3 483.7,455.6 482.8,456.0 481.8,456.4 480.9,456.7 479.9,457.1 479.0,457.4 478.0,457.8 477.0,458.2 476.1,458.6 475.1,458.9 474.2,459.3 473.2,459.7 472.3,460.1 471.3,460.5 470.4,460.9 469.4,461.2 468.4,461.6 467.5,462.0 466.5,462.4 465.6,462.8 464.6,463.2 463.7,463.7 462.7,464.1 461.7,464.5 460.8,464.9 459.8,465.3 458.9,465.7 457.9,466.2 457.0,466.6 456.0,467.0 455.0,467.4 454.1,467.9 453.1,468.3 452.2,468.7 451.2,469.1 450.3,469.6 449.3,470.0 448.3,470.4 447.4,470.9 446.4,471.3 445.5,471.7 444.5,472.2 443.6,472.6 442.6,473.0 441.7,473.5 440.7,473.9 439.7,474.3 438.8,474.7 437.8,475.2 436.9,475.6 435.9,476.0 435.0,476.4 434.0,476.9 433.0,477.3 432.1,477.7 431.1,478.1 430.2,478.5 429.2,479.0 428.3,479.4 427.3,479.8 426.3,480.2 425.4,480.6 424.4,481.0 423.5,481.5 422.5,481.9 421.6,482.3 420.6,482.7 419.6,483.1 418.7,483.6 417.7,484.0 416.8,484.4 415.8,484.8 414.9,485.3 413.9,485.7 413.0,486.1 412.0,486.5 411.0,487.0 410.1,487.4 409.1,487.8 408.2,488.3 407.2,488.7 406.3,489.1 405.3,489.6 404.3,490.0 403.4,490.4 402.4,490.9 401.5,491.3 400.5,491.7 399.6,492.2 398.6,492.6 397.6,493.0 396.7,493.5 395.7,493.9 394.8,494.3 393.8,494.7 392.9,495.2 391.9,495.6 390.9,496.0 390.0,496.4 389.0,496.8 388.1,497.3 387.1,497.7 386.2,498.1 385.2,498.5 384.3,498.9 383.3,499.3 382.3,499.7 381.4,500.1 380.4,500.5 379.5,500.9 378.5,501.2 377.6,501.6 376.6,502.0 375.6,502.4 374.7,502.7 373.7,503.1 372.8,503.4 371.8,503.8 370.9,504.1 369.9,504.4 368.9,504.8 368.0,505.1 367.0,505.4 366.1,505.7 365.1,506.0 364.2,506.3 363.2,506.6 362.3,506.8 361.3,507.1 360.3,507.4 359.4,507.6 358.4,507.9 357.5,508.1 356.5,508.3 355.6,508.5 354.6,508.8 353.6,509.0 352.7,509.2 351.7,509.3 350.8,509.5 349.8,509.7 348.9,509.9 347.9,510.0 346.9,510.2 346.0,510.3 345.0,510.4 344.1,510.6 343.1,510.7 342.2,510.8 341.2,510.9 340.2,511.0 339.3,511.1 338.3,511.1 337.4,511.2 336.4,511.3 335.5,511.3 334.5,511.3 333.6,511.4 332.6,511.4 331.6,511.4 330.7,511.4 329.7,511.4 328.8,511.4 327.8,511.3 326.9,511.3 325.9,511.3 324.9,511.2 324.0,511.1 323.0,511.0 322.1,511.0 321.1,510.8 320.2,510.7 319.2,510.6 318.2,510.5 317.3,510.3 316.3,510.1 315.4,510.0 314.4,509.8 313.5,509.6 312.5,509.3 311.5,509.1 310.6,508.9 309.6,508.6 308.7,508.3 307.7,508.0 306.8,507.7 305.8,507.4 304.9,507.0 303.9,506.7 302.9,506.3 302.0,505.9 301.0,505.5 300.1,505.1 299.1,504.6 298.2,504.1 297.2,503.7 296.2,503.2 295.3,502.6 294.3,502.1 293.4,501.5 292.4,500.9 291.5,500.3 290.5,499.7 289.5,499.0 288.6,498.3 287.6,497.7 286.7,496.9 285.7,496.2 284.8,495.4 283.8,494.6 282.8,493.8 281.9,493.0 280.9,492.1 280.0,491.2 279.0,490.3 278.1,489.4 277.1,488.4 276.2,487.5 275.2,486.5 274.2,485.4 273.3,484.4 272.3,483.3 271.4,482.2 270.4,481.1 269.5,480.0 268.5,478.8 267.5,477.6 266.6,476.4 265.6,475.2 264.7,473.9 263.7,472.7 262.8,471.4 261.8,470.0 260.8,468.7 259.9,467.3 258.9,465.9 258.0,464.5 257.0,463.1 256.1,461.6 255.1,460.1 254.2,458.6 253.2,457.1 252.2,455.5 251.3,453.9 250.3,452.3 249.4,450.7 248.4,449.1 247.5,447.4 246.5,445.8 245.5,444.1 244.6,442.3 243.6,440.6 242.7,438.8 241.7,437.0 240.8,435.2 239.8,433.4 238.8,431.5 237.9,429.6 236.9,427.7 236.0,425.7 235.0,423.8 234.1,421.8 233.1,419.7 232.1,417.7 231.2,415.6 230.2,413.5 229.3,411.4 228.3,409.3 227.4,407.2 226.4,405.0 225.5,402.8 224.5,400.6 223.5,398.4 222.6,396.2 221.6,394.0 220.7,391.8 219.7,389.6 218.8,387.3 217.8,385.1 216.8,382.9 215.9,380.7 214.9,378.5 214.0,376.3 213.0,374.1 212.1,372.0 211.1,369.8 210.1,367.7 209.2,365.6 208.2,363.6 207.3,361.6 206.3,359.6 205.4,357.6 204.4,355.7 203.4,353.8 202.5,351.9 201.5,350.1 200.6,348.3 199.6,346.6 198.7,344.9 197.7,343.3 196.8,341.7 195.8,340.1 194.8,338.5 193.9,337.0 192.9,335.4 192.0,333.9 191.0,332.3 190.1,330.7 189.1,329.2 188.1,327.6 187.2,326.0 186.2,324.4 185.3,322.8 184.3,321.2 183.4,319.6 182.4,318.0 181.4,316.4 180.5,314.8 179.5,313.1 178.6,311.5 177.6,309.9 176.7,308.3 175.7,306.7 174.8,305.2 173.8,303.6 172.8,302.1 171.9,300.7 170.9,299.2 170.0,297.8 169.0,296.5 168.1,295.2 167.1,294.0 166.1,292.9 165.2,291.8 164.2,290.8 163.3,289.8 162.3,288.9 161.4,288.1 160.4,287.3 159.4,286.7 158.5,286.1 157.5,285.5 156.6,285.1 155.6,284.7 154.7,284.4 153.7,284.1 152.7,284.0 151.8,283.8 150.8,283.8 149.9,283.8 148.9,283.9 148.0,284.0 147.0,284.1 146.1,284.4 145.1,284.6 144.1,285.0 143.2,285.3 142.2,285.8 141.3,286.3 140.3,286.8 139.4,287.4 138.4,288.0 137.4,288.6 136.5,289.3 135.5,290.1 134.6,290.9 133.6,291.7 132.7,292.5 131.7,293.4 130.7,294.3 129.8,295.3 128.8,296.2 127.9,297.2 126.9,298.3 126.0,299.3 125.0,300.5 124.0,301.6 123.1,302.9 122.1,304.1 121.2,305.5 120.2,306.9 119.3,308.4 118.3,309.9 117.4,311.5 116.4,313.2 115.4,315.0 114.5,316.9 113.5,318.8 112.6,320.8 111.6,322.8 110.7,324.8 109.7,326.9 108.7,329.0 107.8,331.2 106.8,333.3 105.9,335.5 104.9,337.7 104.0,340.0 103.0,342.3 102.0,344.6 101.1,346.9 100.1,349.2 99.2,351.5 98.9,352.3 98.6,353.0 98.3,353.8 98.0,354.5 97.7,355.2 97.3,356.0 97.0,356.7 96.7,357.4 96.4,358.2 96.1,358.9 95.8,359.7 95.5,360.4 95.2,361.1 94.9,361.9 94.6,362.6 94.3,363.3 94.0,364.1 93.7,364.8 93.4,365.6 93.1,366.3 92.8,367.0 92.5,367.7 92.2,368.5 91.9,369.2 91.6,369.9 91.3,370.6 90.9,371.4 90.6,372.1 90.3,372.8 90.0,373.5 89.7,374.2 89.4,374.9 89.1,375.6 88.8,376.3 88.5,377.0 88.2,377.6 87.9,378.3 87.6,379.0 87.3,379.6 87.0,380.3 86.7,380.9 86.4,381.5 86.1,382.2 85.8,382.8 85.5,383.4 85.2,384.0 84.9,384.6 84.5,385.2 84.2,385.7 83.9,386.3 83.6,386.9 83.3,387.4 83.0,387.9 82.7,388.5 82.4,389.0 82.1,389.5 81.8,390.0 81.5,390.5 81.2,391.0 80.9,391.4 80.6,391.9 80.3,392.4 80.0,392.8 79.7,393.2 79.4,393.7 79.1,394.1 78.8,394.5 78.4,394.9 78.1,395.3 77.8,395.7 77.5,396.1 77.2,396.5 76.9,396.8 76.6,397.2 76.3,397.5 76.0,397.9 75.7,398.2 75.4,398.5 75.1,398.8 74.8,399.1 74.5,399.4 74.2,399.7 73.9,400.0 73.6,400.2 73.3,400.5 73.0,400.7 72.7,401.0 72.4,401.2 72.0,401.4 71.7,401.7 71.4,401.9 71.1,402.1 70.8,402.3 70.5,402.5 70.2,402.7 69.9,402.8 69.6,403.0 69.3,403.2 69.0,403.3 68.7,403.5 68.4,403.7 68.1,403.8 67.8,403.9 67.5,404.1 67.2,404.2 66.9,404.3 66.6,404.4 66.3,404.5 66.0,404.6 65.6,404.7 65.3,404.8 65.0,404.9 64.7,405.0 64.4,405.2 64.1,405.3 63.8,405.4 63.5,405.6 63.2,405.8 62.9,406.2 62.6,407.2" fill="#f15a24" stroke="#000" stroke-width="1.5"/>
<polyline points="62.6,407.2 62.9,406.1 63.2,405.6 63.5,405.2 63.8,404.8 64.1,404.5 64.4,404.1 64.7,403.8 65.0,403.4 65.3,403.0 65.6,402.6 66.0,402.2 66.3,401.7 66.6,401.3 66.9,400.8 67.2,400.3 67.5,399.8 67.8,399.3 68.1,398.8 68.4,398.2 68.7,397.7 69.0,397.1 69.3,396.5 69.6,395.8 69.9,395.2 70.2,394.5 70.5,393.9 70.8,393.2 71.1,392.5 71.4,391.8 71.7,391.0 72.0,390.3 72.4,389.5 72.7,388.8 73.0,388.0 73.3,387.2 73.6,386.3 73.9,385.5 74.2,384.7 74.5,383.8 74.8,383.0 75.1,382.1 75.4,381.2 75.7,380.3 76.0,379.4 76.3,378.5 76.6,377.5 76.9,376.6 77.2,375.6 77.5,374.7 77.8,373.7 78.1,372.7 78.4,371.8 78.8,370.8 79.1,369.8 79.4,368.8 79.7,367.7 80.0,366.7 80.3,365.7 80.6,364.7 80.9,363.6 81.2,362.6 81.5,361.5 81.8,360.5 82.1,359.4 82.4,358.3 82.7,357.3 83.0,356.2 83.3,355.1 83.6,354.0 83.9,353.0 84.2,351.9 84.5,350.8 84.9,349.7 85.2,348.6 85.5,347.5 85.8,346.4 86.1,345.3 86.4,344.2 86.7,343.1 87.0,341.9 87.3,340.8 87.6,339.7 87.9,338.6 88.2,337.5 88.5,336.4 88.8,335.3 89.1,334.1 89.4,333.0 89.7,331.9 90.0,330.8 90.3,329.7 90.6,328.6 90.9,327.5 91.3,326.4 91.6,325.2 91.9,324.1 92.2,323.0 92.5,321.9 92.8,320.8 93.1,319.7 93.4,318.6 93.7,317.5 94.0,316.4 94.3,315.3 94.6,314.2 94.9,313.2 95.2,312.1 95.5,311.0 95.8,309.9 96.1,308.8 96.4,307.8 96.7,306.7 97.0,305.6 97.3,304.6 97.7,303.5 98.0,302.5 98.3,301.4 98.6,300.4 98.9,299.4 99.2,298.3 100.1,295.1 101.1,292.0 102.0,288.9 103.0,285.8 104.0,282.9 104.9,280.0 105.9,277.1 106.8,274.4 107.8,271.7 108.7,269.1 109.7,266.5 110.7,264.1 111.6,261.7 112.6,259.4 113.5,257.2 114.5,255.1 115.4,253.1 116.4,251.1 117.4,249.2 118.3,247.4 119.3,245.7 120.2,244.1 121.2,242.6 122.1,241.2 123.1,239.8 124.0,238.5 125.0,237.3 126.0,236.2 126.9,235.2 127.9,234.3 128.8,233.4 129.8,232.7 130.7,232.0 131.7,231.4 132.7,230.8 133.6,230.4 134.6,230.0 135.5,229.7 136.5,229.5 137.4,229.3 138.4,229.3 139.4,229.3 140.3,229.3 141.3,229.5 142.2,229.7 143.2,230.0 144.1,230.3 145.1,230.7 146.1,231.2 147.0,231.7 148.0,232.3 148.9,233.0 149.9,233.7 150.8,234.5 151.8,235.3 152.7,236.2 153.7,237.1 154.7,238.1 155.6,239.2 156.6,240.3 157.5,241.4 158.5,242.6 159.4,243.8 160.4,245.1 161.4,246.4 162.3,247.7 163.3,249.1 164.2,250.6 165.2,252.1 166.1,253.6 167.1,255.1 168.1,256.7 169.0,258.3 170.0,259.9 170.9,261.6 171.9,263.3 172.8,265.1 173.8,266.8 174.8,268.6 175.7,270.4 176.7,272.2 177.6,274.1 178.6,276.0 179.5,277.9 180.5,279.8 181.4,281.7 182.4,283.7 183.4,285.7 184.3,287.7 185.3,289.7 186.2,291.7 187.2,293.7 188.1,295.8 189.1,297.8 190.1,299.9 191.0,302.0 192.0,304.1 192.9,306.2 193.9,308.3 194.8,310.4 195.8,312.5 196.8,314.6 197.7,316.7 198.7,318.8 199.6,321.0 200.6,323.1 201.5,325.2 202.5,327.4 203.4,329.5 204.4,331.6 205.4,333.8 206.3,335.9 207.3,338.0 208.2,340.1 209.2,342.3 210.1,344.4 211.1,346.5 212.1,348.6 213.0,350.7 214.0,352.8 214.9,354.9 215.9,356.9 216.8,359.0 217.8,361.1 218.8,363.1 219.7,365.1 220.7,367.2 221.6,369.2 222.6,371.2 223.5,373.2 224.5,375.1 225.5,377.1 226.4,379.0 227.4,381.0 228.3,382.9 229.3,384.8 230.2,386.7 231.2,388.5 232.1,390.4 233.1,392.2 234.1,394.0 235.0,395.8 236.0,397.6 236.9,399.4 237.9,401.2 238.8,402.9 239.8,404.6 240.8,406.3 241.7,408.0 242.7,409.6 243.6,411.3 244.6,412.9 245.5,414.5 246.5,416.1 247.5,417.7 248.4,419.2 249.4,420.7 250.3,422.3 251.3,423.7 252.2,425.2 253.2,426.7 254.2,428.1 255.1,429.5 256.1,430.9 257.0,432.3 258.0,433.6 258.9,435.0 259.9,436.3 260.8,437.6 261.8,438.9 262.8,440.1 263.7,441.4 264.7,442.6 265.6,443.8 266.6,445.0 267.5,446.1 268.5,447.3 269.5,448.4 270.4,449.5 271.4,450.6 272.3,451.6 273.3,452.7 274.2,453.7 275.2,454.7 276.2,455.7 277.1,456.7 278.1,457.6 279.0,458.6 280.0,459.5 280.9,460.4 281.9,461.3 282.8,462.1 283.8,463.0 284.8,463.8 285.7,464.6 286.7,465.4 287.6,466.2 288.6,466.9 289.5,467.6 290.5,468.4 291.5,469.1 292.4,469.8 293.4,470.4 294.3,471.1 295.3,471.7 296.2,472.3 297.2,472.9 298.2,473.5 299.1,474.1 300.1,474.6 301.0,475.2 302.0,475.7 302.9,476.2 303.9,476.7 304.9,477.2 305.8,477.7 306.8,478.1 307.7,478.5 308.7,479.0 309.6,479.4 310.6,479.8 311.5,480.1 312.5,480.5 313.5,480.8 314.4,481.2 315.4,481.5 316.3,481.8 317.3,482.1 318.2,482.4 319.2,482.7 320.2,482.9 321.1,483.2 322.1,483.4 323.0,483.6 324.0,483.8 324.9,484.0 325.9,484.2 326.9,484.4 327.8,484.6 328.8,484.7 329.7,484.9 330.7,485.0 331.6,485.1 332.6,485.2 333.6,485.3 334.5,485.4 335.5,485.5 336.4,485.6 337.4,485.6 338.3,485.7 339.3,485.7 340.2,485.7 341.2,485.8 342.2,485.8 343.1,485.8 344.1,485.8 345.0,485.8 346.0,485.8 346.9,485.7 347.9,485.7 348.9,485.6 349.8,485.6 350.8,485.5 351.7,485.5 352.7,485.4 353.6,485.3 354.6,485.2 355.6,485.1 356.5,485.0 357.5,484.9 358.4,484.8 359.4,484.7 360.3,484.5 361.3,484.4 362.3,484.3 363.2,484.1 364.2,484.0 365.1,483.8 366.1,483.6 367.0,483.5 368.0,483.3 368.9,483.1 369.9,482.9 370.9,482.7 371.8,482.5 372.8,482.3 373.7,482.1 374.7,481.9 375.6,481.7 376.6,481.5 377.6,481.3 378.5,481.0 379.5,480.8 380.4,480.6 381.4,480.3 382.3,480.1 383.3,479.8 384.3,479.6 385.2,479.3 386.2,479.1 387.1,478.8 388.1,478.5 389.0,478.3 390.0,478.0 390.9,477.7 391.9,477.5 392.9,477.2 393.8,476.9 394.8,476.6 395.7,476.3 396.7,476.0 397.6,475.7 398.6,475.5 399.6,475.2 400.5,474.9 401.5,474.6 402.4,474.3 403.4,474.0 404.3,473.7 405.3,473.3 406.3,473.0 407.2,472.7 408.2,472.4 409.1,472.1 410.1,471.8 411.0,471.5 412.0,471.2 413.0,470.8 413.9,470.5 414.9,470.2 415.8,469.9 416.8,469.6 417.7,469.2 418.7,468.9 419.6,468.6 420.6,468.3 421.6,468.0 422.5,467.6 423.5,467.3 424.4,467.0 425.4,466.7 426.3,466.3 427.3,466.0 428.3,465.7 429.2,465.3 430.2,465.0 431.1,464.7 432.1,464.4 433.0,464.0 434.0,463.7 435.0,463.4 435.9,463.0 436.9,462.7 437.8,462.4 438.8,462.1 439.7,461.7 440.7,461.4 441.7,461.1 442.6,460.8 443.6,460.4 444.5,460.1 445.5,459.8 446.4,459.5 447.4,459.1 448.3,458.8 449.3,458.5 450.3,458.2 451.2,457.8 452.2,457.5 453.1,457.2 454.1,456.9 455.0,456.6 456.0,456.2 457.0,455.9 457.9,455.6 458.9,455.3 459.8,455.0 460.8,454.6 461.7,454.3 462.7,454.0 463.7,453.7 464.6,453.4 465.6,453.1 466.5,452.8 467.5,452.5 468.4,452.2 469.4,451.8 470.4,451.5 471.3,451.2 472.3,450.9 473.2,450.6 474.2,450.3 475.1,450.0 476.1,449.7 477.0,449.4 478.0,449.1 479.0,448.8 479.9,448.5 480.9,448.2 481.8,447.9 482.8,447.7 483.7,447.4 484.7,447.1 485.7,446.8 486.6,446.5 487.6,446.2 488.5,445.9 489.5,445.6 490.4,445.4 491.4,445.1 492.4,444.8 493.3,444.5 494.3,444.2 495.2,444.0 496.2,443.7 497.1,443.4 498.1,443.1 499.0,442.9 500.0,442.6 501.0,442.3 501.9,442.1 502.9,441.8 503.8,441.5 504.8,441.3 505.7,441.0 506.7,440.7 507.7,440.5 508.6,440.2 509.6,440.0 510.5,439.7 511.5,439.5 512.4,439.2 513.4,438.9 514.4,438.7 515.3,438.4 516.3,438.2 517.2,438.0 518.2,437.7 519.1,437.5 520.1,437.2 521.1,437.0 522.0,436.7 523.0,436.5 523.9,436.3 524.9,436.0 525.8,435.8 526.8,435.6 527.7,435.3 528.7,435.1 529.7,434.9 530.6,434.6 531.6,434.4 532.5,434.2 533.5,434.0 534.4,433.7 535.4,433.5 536.4,433.3 537.3,433.1 538.3,432.8 539.2,432.6 540.2,432.4 541.1,432.2 542.1,432.0 543.1,431.8 544.0,431.6 545.0,431.4 545.9,431.1 546.9,430.9 547.8,430.7 548.8,430.5 549.8,430.3 550.7,430.1 551.7,429.9 552.6,429.7 553.6,429.5 554.5,429.3 555.5,429.1 556.4,428.9 557.4,428.7 558.4,428.5 559.3,428.4 560.3,428.2 561.2,428.0 562.2,427.8 563.1,427.6 564.1,427.4 565.1,427.2 566.0,427.1 567.0,426.9 567.9,426.7 568.9,426.5 569.8,426.3 570.8,426.2 571.8,426.0 572.7,425.8 573.7,425.7 574.6,425.5 575.6,425.3 576.5,425.1 577.5,425.0 578.4,424.8 579.4,424.7 580.4,424.5 581.3,424.3 582.3,424.2 583.2,424.0 584.2,423.8 585.1,423.7 586.1,423.5 587.1,423.4 588.0,423.2 589.0,423.1 589.9,422.9 590.9,422.8 591.8,422.6 592.8,422.5 593.8,422.3 594.7,422.2 595.7,422.1 596.6,421.9 597.6,421.8 598.5,421.6 599.5,421.5 600.5,421.4 601.4,421.2 602.4,421.1 603.3,421.0 604.3,420.8 605.2,420.7 606.2,420.6 607.1,420.4 608.1,420.3 609.1,420.2 610.0,420.1 611.0,419.9 611.9,419.8 612.9,419.7 613.8,419.6 614.8,419.5 615.8,419.3 616.7,419.2 617.7,419.1 618.6,419.0 619.6,418.9 620.5,418.8 621.5,418.7 622.5,418.5 623.4,418.4 624.4,418.3 625.3,418.2 626.3,418.1 627.2,418.0 628.2,417.9 629.2,417.8 630.1,417.7 631.1,417.6 632.0,417.5 633.0,417.4 633.9,417.3 634.9,417.2 635.8,417.1 636.8,417.0 637.8,416.9 638.7,416.8 639.7,416.7 640.6,416.7 641.6,416.6 642.5,416.5 643.5,416.4 644.5,416.3 645.4,416.2 646.4,416.1 647.3,416.0 648.3,416.0 649.2,415.9 650.2,415.8 651.2,415.7 652.1,415.6 653.1,415.6 654.0,415.5 655.0,415.4 655.9,415.3 656.9,415.2 657.9,415.2 658.8,415.1 659.8,415.0 660.7,415.0 661.7,414.9 662.6,414.8 663.6,414.7 664.5,414.7 665.5,414.6 666.5,414.5 667.4,414.5 668.4,414.4 669.3,414.3 670.3,414.3 671.2,414.2 672.2,414.1" fill="none" stroke="#000" stroke-width="5.1"/>
</g>
<line x1="62.6" y1="407.1" x2="672.2" y2="407.1" stroke="#000" stroke-width="1.4"/>
<path d="M62.6 0.75H672.2V599.4H62.6Z" fill="none" stroke="#000" stroke-width="1.4"/>
<path d="M76.35 599.4v-11.2M91.70 599.4v-11.2M108.00 599.4v-11.2M122.90 599.4v-11.2M137.70 599.4v-11.2M154.40 599.4v-11.2M169.30 599.4v-11.2M185.10 599.4v-11.2M196.30 599.4v-11.2M215.50 599.4v-11.2M230.30 599.4v-11.2M242.70 599.4v-11.2M258.50 599.4v-11.2M273.40 599.4v-11.2M290.10 599.4v-11.2M304.90 599.4v-11.2M320.30 599.4v-11.2M334.70 599.4v-11.2M351.30 599.4v-11.2M366.00 599.4v-11.2M382.30 599.4v-11.2M397.30 599.4v-11.2M413.00 599.4v-11.2M427.70 599.4v-11.2M444.10 599.4v-11.2M458.90 599.4v-11.2M474.10 599.4v-11.2M489.20 599.4v-11.2M505.60 599.4v-11.2M520.90 599.4v-11.2M536.90 599.4v-11.2M551.60 599.4v-11.2M568.15 599.4v-11.2M583.25 599.4v-11.2M598.30 599.4v-11.2M612.90 599.4v-11.2M629.70 599.4v-11.2M643.00 599.4v-11.2M660.00 599.4v-11.2M62.6 23.20h11.3M62.6 46.70h11.3M62.6 70.60h11.3M62.6 93.80h11.3M62.6 119.50h11.3M62.6 143.00h11.3M62.6 166.60h11.3M62.6 190.50h11.3M62.6 214.40h11.3M62.6 239.90h11.3M62.6 262.70h11.3M62.6 287.30h11.3M62.6 310.90h11.3M62.6 334.80h11.3M62.6 360.30h11.3M62.6 383.50h11.3M62.6 431.60h11.3M62.6 455.00h11.3M62.6 479.10h11.3M62.6 504.60h11.3M62.6 527.50h11.3M62.6 550.60h11.3M62.6 576.30h11.3" stroke="#000" stroke-width="1.5" fill="none"/>
<g font-family="'Liberation Sans',Arial,Helvetica,sans-serif" font-size="20.0" fill="#000" stroke="#000" stroke-width="0.22">
<text x="62.4" y="623.2" text-anchor="middle" font-size="19.5">0</text>
<text x="124" y="623.2" text-anchor="middle" font-size="19.5">0.2</text>
<text x="182.7" y="623.2" text-anchor="middle" font-size="19.5">0.4</text>
<text x="244.8" y="623.2" text-anchor="middle" font-size="19.5">0.6</text>
<text x="306" y="623.2" text-anchor="middle" font-size="19.5">0.8</text>
<text x="363.8" y="623.2" text-anchor="middle" font-size="19.5">1.0</text>
<text x="428" y="623.2" text-anchor="middle" font-size="19.5">1.2</text>
<text x="490" y="623.2" text-anchor="middle" font-size="19.5">1.4</text>
<text x="554.3" y="623.2" text-anchor="middle" font-size="19.5">1.6</text>
<text x="613.8" y="623.2" text-anchor="middle" font-size="19.5">1.8</text>
<text x="671.5" y="623.2" text-anchor="middle" font-size="19.5">2.0</text>
<text x="55.2" y="53.2" text-anchor="end" font-size="19.5">15</text>
<text x="55.2" y="173.1" text-anchor="end" font-size="19.5">10</text>
<text x="55.2" y="293.8" text-anchor="end" font-size="19.5">5</text>
<text x="55.2" y="413.7" text-anchor="end" font-size="19.5">0</text>
<text x="55.2" y="533.8" text-anchor="end" font-size="19.5">−5</text>
<text x="254.8" y="162.9">Repulsive</text>
<text x="254.8" y="186.9">pressure</text>
<text x="604.9" y="475.1" text-anchor="middle">Confining</text>
<text x="605.3" y="498.6" text-anchor="middle">pressure</text>
<text x="344" y="654"><tspan font-style="italic">r</tspan> (fm)</text>
<text transform="translate(17.8,402.5) rotate(-90)" letter-spacing="0.13"><tspan font-style="italic">r</tspan><tspan dy="-6.5" font-size="11.5">2</tspan><tspan dy="6.5" font-style="italic">p</tspan>(<tspan font-style="italic">r</tspan>) (×10<tspan dy="-6.5" font-size="11.5">−2</tspan><tspan dy="6.5"> GeV fm</tspan><tspan dy="-6.5" font-size="11.5">−1</tspan><tspan dy="6.5">)</tspan></text>
</g>
<path d="M254.2 205.2H336" stroke="#000" stroke-width="2.8" fill="none"/>
<path d="M353.5 205.2L330.6 195.4L335.6 205.2L330.6 215Z" fill="#000"/>
<path d="M650.2 518.9H568" stroke="#000" stroke-width="2.8" fill="none"/>
<path d="M550.4 518.9L573 509.2L568 518.9L573 528.6Z" fill="#000"/>
</svg>
</body></html>
